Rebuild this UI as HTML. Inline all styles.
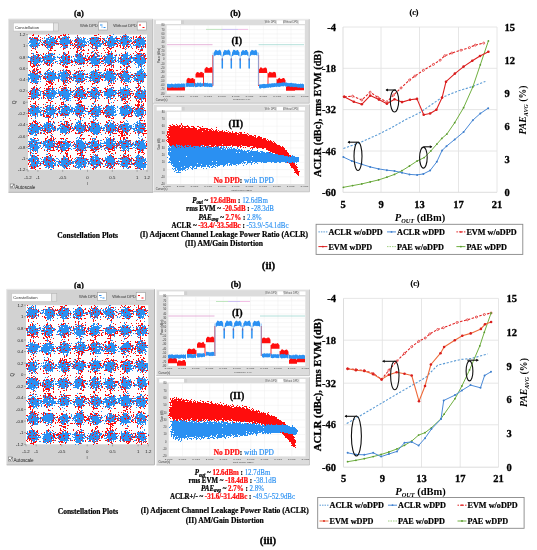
<!DOCTYPE html>
<html><head><meta charset="utf-8"><style>html,body{margin:0;padding:0;background:#fff;width:537px;height:550px;overflow:hidden}svg{display:block;filter:blur(0.3px)}</style></head>
<body><svg width="537" height="550" viewBox="0 0 537 550">
<rect width="537" height="550" fill="#fff"/>
<text x="79" y="16" font-size="8.5" text-anchor="middle" font-weight="bold" fill="#000" font-family="Liberation Serif"  stroke="#000" stroke-width="0.3">(a)</text>
<text x="235.5" y="16" font-size="8.5" text-anchor="middle" font-weight="bold" fill="#000" font-family="Liberation Serif"  stroke="#000" stroke-width="0.3">(b)</text>
<rect x="8.5" y="19" width="144.5" height="173.3" fill="#d2d2d2"/>
<path d="M8.5 192.3V19H153" stroke="#e6e6e6" stroke-width="1" fill="none"/>
<path d="M8.5 192.3H153V19" stroke="#b4b4b4" stroke-width="1" fill="none"/>
<rect x="13.4" y="23" width="40" height="8" fill="#fff" stroke="#c0c0c0" stroke-width="0.5"/>
<rect x="53.4" y="23" width="5" height="8" fill="#e4e4e4" stroke="#b0b0b0" stroke-width="0.5"/>
<text x="14.9" y="28.6" font-size="4.2" text-anchor="start" font-weight="normal" fill="#333" font-family="Liberation Sans" >Constellation</text>
<text x="80" y="27.4" font-size="4.1" text-anchor="start" font-weight="normal" fill="#333" font-family="Liberation Sans" >With DPD</text>
<rect x="98.4" y="22" width="9" height="8" fill="#fff" stroke="#999" stroke-width="0.6"/>
<path d="M100 25h2.5M103.5 27.5h2M101.5 27h1" stroke="#2a90f2" stroke-width="1.2"/>
<text x="113.2" y="27.4" font-size="4.1" text-anchor="start" font-weight="normal" fill="#333" font-family="Liberation Sans" >Without DPD</text>
<rect x="137.2" y="22" width="9.2" height="8" fill="#fff" stroke="#999" stroke-width="0.6"/>
<path d="M139 25h2M142.5 27.5h2" stroke="#ff0d0d" stroke-width="1.2"/>
<rect x="28" y="34.6" width="119" height="135.2" fill="#fff"/>
<text x="25.5" y="36.1" font-size="4.3" text-anchor="end" font-weight="normal" fill="#222" font-family="Liberation Sans" >1.2</text>
<path d="M26 34.6h2" stroke="#555" stroke-width="0.4"/>
<text x="25.5" y="47.4" font-size="4.3" text-anchor="end" font-weight="normal" fill="#222" font-family="Liberation Sans" >1</text>
<path d="M26 45.9h2" stroke="#555" stroke-width="0.4"/>
<text x="25.5" y="58.6" font-size="4.3" text-anchor="end" font-weight="normal" fill="#222" font-family="Liberation Sans" >0.8</text>
<path d="M26 57.1h2" stroke="#555" stroke-width="0.4"/>
<text x="25.5" y="69.9" font-size="4.3" text-anchor="end" font-weight="normal" fill="#222" font-family="Liberation Sans" >0.6</text>
<path d="M26 68.4h2" stroke="#555" stroke-width="0.4"/>
<text x="25.5" y="81.2" font-size="4.3" text-anchor="end" font-weight="normal" fill="#222" font-family="Liberation Sans" >0.4</text>
<path d="M26 79.7h2" stroke="#555" stroke-width="0.4"/>
<text x="25.5" y="92.4" font-size="4.3" text-anchor="end" font-weight="normal" fill="#222" font-family="Liberation Sans" >0.2</text>
<path d="M26 90.9h2" stroke="#555" stroke-width="0.4"/>
<text x="25.5" y="103.7" font-size="4.3" text-anchor="end" font-weight="normal" fill="#222" font-family="Liberation Sans" >0</text>
<path d="M26 102.2h2" stroke="#555" stroke-width="0.4"/>
<text x="25.5" y="115" font-size="4.3" text-anchor="end" font-weight="normal" fill="#222" font-family="Liberation Sans" >-0.2</text>
<path d="M26 113.5h2" stroke="#555" stroke-width="0.4"/>
<text x="25.5" y="126.2" font-size="4.3" text-anchor="end" font-weight="normal" fill="#222" font-family="Liberation Sans" >-0.4</text>
<path d="M26 124.7h2" stroke="#555" stroke-width="0.4"/>
<text x="25.5" y="137.5" font-size="4.3" text-anchor="end" font-weight="normal" fill="#222" font-family="Liberation Sans" >-0.6</text>
<path d="M26 136h2" stroke="#555" stroke-width="0.4"/>
<text x="25.5" y="148.8" font-size="4.3" text-anchor="end" font-weight="normal" fill="#222" font-family="Liberation Sans" >-0.8</text>
<path d="M26 147.3h2" stroke="#555" stroke-width="0.4"/>
<text x="25.5" y="160" font-size="4.3" text-anchor="end" font-weight="normal" fill="#222" font-family="Liberation Sans" >-1</text>
<path d="M26 158.5h2" stroke="#555" stroke-width="0.4"/>
<text x="25.5" y="171.3" font-size="4.3" text-anchor="end" font-weight="normal" fill="#222" font-family="Liberation Sans" >-1.2</text>
<path d="M26 169.8h2" stroke="#555" stroke-width="0.4"/>
<text x="28" y="178.8" font-size="4.3" text-anchor="middle" font-weight="normal" fill="#222" font-family="Liberation Sans" >-1.2</text>
<path d="M28 169.8v2" stroke="#555" stroke-width="0.4"/>
<text x="37.9" y="178.8" font-size="4.3" text-anchor="middle" font-weight="normal" fill="#222" font-family="Liberation Sans" >-1</text>
<path d="M37.9 169.8v2" stroke="#555" stroke-width="0.4"/>
<text x="62.7" y="178.8" font-size="4.3" text-anchor="middle" font-weight="normal" fill="#222" font-family="Liberation Sans" >-0.5</text>
<path d="M62.7 169.8v2" stroke="#555" stroke-width="0.4"/>
<text x="87.5" y="178.8" font-size="4.3" text-anchor="middle" font-weight="normal" fill="#222" font-family="Liberation Sans" >0</text>
<path d="M87.5 169.8v2" stroke="#555" stroke-width="0.4"/>
<text x="112.3" y="178.8" font-size="4.3" text-anchor="middle" font-weight="normal" fill="#222" font-family="Liberation Sans" >0.5</text>
<path d="M112.3 169.8v2" stroke="#555" stroke-width="0.4"/>
<text x="137.1" y="178.8" font-size="4.3" text-anchor="middle" font-weight="normal" fill="#222" font-family="Liberation Sans" >1</text>
<path d="M137.1 169.8v2" stroke="#555" stroke-width="0.4"/>
<text x="147" y="178.8" font-size="4.3" text-anchor="middle" font-weight="normal" fill="#222" font-family="Liberation Sans" >1.2</text>
<path d="M147 169.8v2" stroke="#555" stroke-width="0.4"/>
<text x="87.5" y="184.8" font-size="4.2" text-anchor="middle" font-weight="normal" fill="#333" font-family="Liberation Sans" >I</text>
<text x="0" y="0" font-size="4.5" text-anchor="middle" font-weight="normal" fill="#333" font-family="Liberation Sans" transform="translate(15.5 102.2) rotate(-90)">Q</text>
<rect x="10.2" y="184" width="4" height="4" fill="#fff" stroke="#666" stroke-width="0.5"/>
<path d="M10.8 186l1.2 1.5l2-3.5" stroke="#222" stroke-width="0.6" fill="none"/>
<text x="15.2" y="188.5" font-size="4.6" text-anchor="start" font-weight="normal" fill="#222" font-family="Liberation Sans" >Autoscale</text>
<defs><filter id="c1r" filterUnits="userSpaceOnUse" x="28" y="34.6" width="119" height="135.2" color-interpolation-filters="sRGB"><feGaussianBlur in="SourceAlpha" stdDeviation="2.6" result="b"/><feTurbulence type="fractalNoise" baseFrequency="0.6" numOctaves="1" seed="2" result="n"/><feColorMatrix in="n" type="matrix" values="0 0 0 0 0 0 0 0 0 0 0 0 0 0 0 1 0 0 0 0" result="na"/><feComposite in="b" in2="na" operator="arithmetic" k1="0" k2="0.4" k3="-1" k4="0.718" result="d"/><feComponentTransfer in="d" result="m"><feFuncA type="discrete" tableValues="0 1"/></feComponentTransfer><feGaussianBlur in="m" stdDeviation="0.35" result="m2"/><feFlood flood-color="#ff0d0d"/><feComposite in2="m2" operator="in"/></filter><filter id="c1h" filterUnits="userSpaceOnUse" x="28" y="34.6" width="119" height="135.2" color-interpolation-filters="sRGB"><feGaussianBlur in="SourceAlpha" stdDeviation="2.4" result="b"/><feTurbulence type="fractalNoise" baseFrequency="0.7" numOctaves="1" seed="3" result="n"/><feColorMatrix in="n" type="matrix" values="0 0 0 0 0 0 0 0 0 0 0 0 0 0 0 1 0 0 0 0" result="na"/><feComposite in="b" in2="na" operator="arithmetic" k1="0" k2="0.4" k3="-1" k4="0.65" result="d"/><feComponentTransfer in="d" result="m"><feFuncA type="discrete" tableValues="0 1"/></feComponentTransfer><feGaussianBlur in="m" stdDeviation="0.35" result="m2"/><feFlood flood-color="#2a90f2"/><feComposite in2="m2" operator="in"/></filter><filter id="c1b" filterUnits="userSpaceOnUse" x="28" y="34.6" width="119" height="135.2" color-interpolation-filters="sRGB"><feGaussianBlur in="SourceAlpha" stdDeviation="2" result="b"/><feTurbulence type="fractalNoise" baseFrequency="0.6" numOctaves="1" seed="4" result="n"/><feColorMatrix in="n" type="matrix" values="0 0 0 0 0 0 0 0 0 0 0 0 0 0 0 1 0 0 0 0" result="na"/><feComposite in="b" in2="na" operator="arithmetic" k1="0" k2="0.6" k3="-1" k4="0.6" result="d"/><feComponentTransfer in="d" result="m"><feFuncA type="discrete" tableValues="0 1"/></feComponentTransfer><feGaussianBlur in="m" stdDeviation="0.35" result="m2"/><feFlood flood-color="#2a90f2"/><feComposite in2="m2" operator="in"/></filter></defs>
<g filter="url(#c1r)"><ellipse cx="34" cy="162.9" rx="6.5" ry="7.5"/><ellipse cx="34.6" cy="145.5" rx="6.5" ry="7.5"/><ellipse cx="34.6" cy="127.9" rx="6.5" ry="7.5"/><ellipse cx="33.9" cy="110.4" rx="6.5" ry="7.5"/><ellipse cx="33.8" cy="93.1" rx="6.5" ry="7.5"/><ellipse cx="34.7" cy="75.6" rx="6.5" ry="7.5"/><ellipse cx="34.7" cy="60.3" rx="6.5" ry="7.5"/><ellipse cx="34.8" cy="42.1" rx="6.5" ry="7.5"/><ellipse cx="48.9" cy="161.7" rx="6.5" ry="7.5"/><ellipse cx="50.3" cy="144.5" rx="6.5" ry="7.5"/><ellipse cx="48.9" cy="127.7" rx="6.5" ry="7.5"/><ellipse cx="49.1" cy="111.2" rx="6.5" ry="7.5"/><ellipse cx="48.9" cy="93.2" rx="6.5" ry="7.5"/><ellipse cx="50.5" cy="77.4" rx="6.5" ry="7.5"/><ellipse cx="49" cy="59.7" rx="6.5" ry="7.5"/><ellipse cx="50.2" cy="42.9" rx="6.5" ry="7.5"/><ellipse cx="65.4" cy="162.4" rx="6.5" ry="7.5"/><ellipse cx="64" cy="145.7" rx="6.5" ry="7.5"/><ellipse cx="65.7" cy="127.8" rx="6.5" ry="7.5"/><ellipse cx="64.1" cy="110.1" rx="6.5" ry="7.5"/><ellipse cx="64" cy="92.7" rx="6.5" ry="7.5"/><ellipse cx="65.8" cy="76.6" rx="6.5" ry="7.5"/><ellipse cx="65.8" cy="59.2" rx="6.5" ry="7.5"/><ellipse cx="64.4" cy="41.3" rx="6.5" ry="7.5"/><ellipse cx="80.9" cy="161.5" rx="6.5" ry="7.5"/><ellipse cx="79.6" cy="145.8" rx="6.5" ry="7.5"/><ellipse cx="80.9" cy="128.5" rx="6.5" ry="7.5"/><ellipse cx="79.7" cy="110" rx="6.5" ry="7.5"/><ellipse cx="80.3" cy="94.1" rx="6.5" ry="7.5"/><ellipse cx="80" cy="77.3" rx="6.5" ry="7.5"/><ellipse cx="80.9" cy="59.5" rx="6.5" ry="7.5"/><ellipse cx="79" cy="43.2" rx="6.5" ry="7.5"/><ellipse cx="96" cy="162" rx="6.5" ry="7.5"/><ellipse cx="94.5" cy="145.5" rx="6.5" ry="7.5"/><ellipse cx="94.5" cy="128.3" rx="6.5" ry="7.5"/><ellipse cx="94.3" cy="111.3" rx="6.5" ry="7.5"/><ellipse cx="94.9" cy="93.5" rx="6.5" ry="7.5"/><ellipse cx="95.7" cy="76.5" rx="6.5" ry="7.5"/><ellipse cx="94.8" cy="59.2" rx="6.5" ry="7.5"/><ellipse cx="95.3" cy="42.5" rx="6.5" ry="7.5"/><ellipse cx="110.8" cy="162.2" rx="6.5" ry="7.5"/><ellipse cx="110.5" cy="145.2" rx="6.5" ry="7.5"/><ellipse cx="110.5" cy="128.5" rx="6.5" ry="7.5"/><ellipse cx="109.2" cy="111.6" rx="6.5" ry="7.5"/><ellipse cx="110.3" cy="93.2" rx="6.5" ry="7.5"/><ellipse cx="110.1" cy="75.7" rx="6.5" ry="7.5"/><ellipse cx="109.3" cy="59.8" rx="6.5" ry="7.5"/><ellipse cx="110.3" cy="43" rx="6.5" ry="7.5"/><ellipse cx="126" cy="161.2" rx="6.5" ry="7.5"/><ellipse cx="124.7" cy="144.2" rx="6.5" ry="7.5"/><ellipse cx="124.3" cy="128.8" rx="6.5" ry="7.5"/><ellipse cx="125.6" cy="111.2" rx="6.5" ry="7.5"/><ellipse cx="124.9" cy="94.6" rx="6.5" ry="7.5"/><ellipse cx="124.3" cy="76.3" rx="6.5" ry="7.5"/><ellipse cx="125.8" cy="60.3" rx="6.5" ry="7.5"/><ellipse cx="124.5" cy="41.9" rx="6.5" ry="7.5"/><ellipse cx="140.3" cy="162.2" rx="6.5" ry="7.5"/><ellipse cx="141.2" cy="145.6" rx="6.5" ry="7.5"/><ellipse cx="141.3" cy="128" rx="6.5" ry="7.5"/><ellipse cx="139.5" cy="110.3" rx="6.5" ry="7.5"/><ellipse cx="139.9" cy="94.4" rx="6.5" ry="7.5"/><ellipse cx="139.7" cy="77" rx="6.5" ry="7.5"/><ellipse cx="140.7" cy="58.4" rx="6.5" ry="7.5"/><ellipse cx="140.1" cy="42.5" rx="6.5" ry="7.5"/></g>
<g filter="url(#c1h)"><circle cx="34.7" cy="162.2" r="7.2"/><circle cx="34.7" cy="145" r="7.2"/><circle cx="34.7" cy="127.9" r="7.2"/><circle cx="34.7" cy="110.8" r="7.2"/><circle cx="34.7" cy="93.6" r="7.2"/><circle cx="34.7" cy="76.5" r="7.2"/><circle cx="34.7" cy="59.4" r="7.2"/><circle cx="34.7" cy="42.2" r="7.2"/><circle cx="49.8" cy="162.2" r="7.2"/><circle cx="49.8" cy="145" r="7.2"/><circle cx="49.8" cy="127.9" r="7.2"/><circle cx="49.8" cy="110.8" r="7.2"/><circle cx="49.8" cy="93.6" r="7.2"/><circle cx="49.8" cy="76.5" r="7.2"/><circle cx="49.8" cy="59.4" r="7.2"/><circle cx="49.8" cy="42.2" r="7.2"/><circle cx="64.9" cy="162.2" r="7.2"/><circle cx="64.9" cy="145" r="7.2"/><circle cx="64.9" cy="127.9" r="7.2"/><circle cx="64.9" cy="110.8" r="7.2"/><circle cx="64.9" cy="93.6" r="7.2"/><circle cx="64.9" cy="76.5" r="7.2"/><circle cx="64.9" cy="59.4" r="7.2"/><circle cx="64.9" cy="42.2" r="7.2"/><circle cx="80" cy="162.2" r="7.2"/><circle cx="80" cy="145" r="7.2"/><circle cx="80" cy="127.9" r="7.2"/><circle cx="80" cy="110.8" r="7.2"/><circle cx="80" cy="93.6" r="7.2"/><circle cx="80" cy="76.5" r="7.2"/><circle cx="80" cy="59.4" r="7.2"/><circle cx="80" cy="42.2" r="7.2"/><circle cx="95" cy="162.2" r="7.2"/><circle cx="95" cy="145" r="7.2"/><circle cx="95" cy="127.9" r="7.2"/><circle cx="95" cy="110.8" r="7.2"/><circle cx="95" cy="93.6" r="7.2"/><circle cx="95" cy="76.5" r="7.2"/><circle cx="95" cy="59.4" r="7.2"/><circle cx="95" cy="42.2" r="7.2"/><circle cx="110.1" cy="162.2" r="7.2"/><circle cx="110.1" cy="145" r="7.2"/><circle cx="110.1" cy="127.9" r="7.2"/><circle cx="110.1" cy="110.8" r="7.2"/><circle cx="110.1" cy="93.6" r="7.2"/><circle cx="110.1" cy="76.5" r="7.2"/><circle cx="110.1" cy="59.4" r="7.2"/><circle cx="110.1" cy="42.2" r="7.2"/><circle cx="125.2" cy="162.2" r="7.2"/><circle cx="125.2" cy="145" r="7.2"/><circle cx="125.2" cy="127.9" r="7.2"/><circle cx="125.2" cy="110.8" r="7.2"/><circle cx="125.2" cy="93.6" r="7.2"/><circle cx="125.2" cy="76.5" r="7.2"/><circle cx="125.2" cy="59.4" r="7.2"/><circle cx="125.2" cy="42.2" r="7.2"/><circle cx="140.3" cy="162.2" r="7.2"/><circle cx="140.3" cy="145" r="7.2"/><circle cx="140.3" cy="127.9" r="7.2"/><circle cx="140.3" cy="110.8" r="7.2"/><circle cx="140.3" cy="93.6" r="7.2"/><circle cx="140.3" cy="76.5" r="7.2"/><circle cx="140.3" cy="59.4" r="7.2"/><circle cx="140.3" cy="42.2" r="7.2"/></g>
<g filter="url(#c1b)"><circle cx="35.9" cy="160.9" r="4.6"/><circle cx="34.5" cy="163" r="5.3"/><circle cx="32.9" cy="159.7" r="5.4"/><circle cx="34.4" cy="163.6" r="3.6"/><circle cx="33.5" cy="147.3" r="5.5"/><circle cx="32.6" cy="142.5" r="4.7"/><circle cx="36.6" cy="144.4" r="4.1"/><circle cx="34.4" cy="142.6" r="4.1"/><circle cx="33.5" cy="126.5" r="4.1"/><circle cx="34.5" cy="126.8" r="3.6"/><circle cx="36.2" cy="128.2" r="4.9"/><circle cx="33.3" cy="130.4" r="5.4"/><circle cx="35.7" cy="111.9" r="5.6"/><circle cx="34.4" cy="112.5" r="5"/><circle cx="33.8" cy="111.2" r="5.5"/><circle cx="36.2" cy="110.8" r="4.8"/><circle cx="36" cy="93.2" r="4"/><circle cx="34.9" cy="94.7" r="5"/><circle cx="34.1" cy="93.3" r="4.7"/><circle cx="35.9" cy="93.7" r="4.4"/><circle cx="32.7" cy="77.6" r="5.7"/><circle cx="35.1" cy="76" r="4"/><circle cx="34.7" cy="79" r="5.2"/><circle cx="34.9" cy="78.4" r="4.1"/><circle cx="35" cy="59.2" r="4.2"/><circle cx="34.9" cy="61.8" r="3.6"/><circle cx="35.9" cy="61.1" r="5.5"/><circle cx="35.8" cy="61" r="4.7"/><circle cx="32.7" cy="44.1" r="4.8"/><circle cx="33.4" cy="42.2" r="4.6"/><circle cx="34.1" cy="41.4" r="4.7"/><circle cx="35.2" cy="42.8" r="4.6"/><circle cx="48.4" cy="162.6" r="5.4"/><circle cx="51.1" cy="163.7" r="5.3"/><circle cx="48.7" cy="164" r="5"/><circle cx="48" cy="159.7" r="3.6"/><circle cx="48.1" cy="145.7" r="4.3"/><circle cx="47.9" cy="143.2" r="4.7"/><circle cx="48.4" cy="143.8" r="5.1"/><circle cx="49.6" cy="144.1" r="4.6"/><circle cx="49.5" cy="126.3" r="3.8"/><circle cx="51.6" cy="127.9" r="4"/><circle cx="50.3" cy="129.5" r="3.6"/><circle cx="47.7" cy="126" r="5.1"/><circle cx="50.6" cy="111" r="4.1"/><circle cx="51.9" cy="112.3" r="4.7"/><circle cx="48.6" cy="111.5" r="4.4"/><circle cx="50.2" cy="109.8" r="4.9"/><circle cx="51.9" cy="95.6" r="4.2"/><circle cx="51.4" cy="92.7" r="5.6"/><circle cx="50.9" cy="93.2" r="4.1"/><circle cx="47.7" cy="95.6" r="3.7"/><circle cx="50.1" cy="74.8" r="5.4"/><circle cx="51.9" cy="77.6" r="4.7"/><circle cx="49.3" cy="75.7" r="4"/><circle cx="50.6" cy="76.2" r="4"/><circle cx="48.9" cy="59.4" r="4.3"/><circle cx="51.5" cy="61.5" r="3.6"/><circle cx="48.5" cy="58.5" r="5.7"/><circle cx="51.1" cy="58.5" r="4"/><circle cx="51.7" cy="41.4" r="5.5"/><circle cx="50.6" cy="42.1" r="5.7"/><circle cx="48.6" cy="43.4" r="3.8"/><circle cx="48.4" cy="44.3" r="4"/><circle cx="66.4" cy="161.5" r="4.3"/><circle cx="64" cy="164.1" r="4.9"/><circle cx="66.9" cy="164.2" r="3.9"/><circle cx="65.1" cy="160.1" r="3.7"/><circle cx="66.2" cy="146.7" r="4.3"/><circle cx="65.4" cy="146.5" r="4.4"/><circle cx="65.2" cy="143.6" r="3.8"/><circle cx="63.9" cy="147" r="4.8"/><circle cx="63.9" cy="129.4" r="5.3"/><circle cx="62.7" cy="128.8" r="3.8"/><circle cx="63.2" cy="129.9" r="3.7"/><circle cx="63.7" cy="130.4" r="4.5"/><circle cx="63.8" cy="112" r="3.8"/><circle cx="66.7" cy="110.1" r="5.6"/><circle cx="66.7" cy="109.7" r="4.1"/><circle cx="64.8" cy="108.7" r="5"/><circle cx="67" cy="92.6" r="4.9"/><circle cx="64.7" cy="92.7" r="3.7"/><circle cx="66.7" cy="96.1" r="5.6"/><circle cx="63.2" cy="92.2" r="4.9"/><circle cx="65.7" cy="77.4" r="4.1"/><circle cx="65.1" cy="75.5" r="4.1"/><circle cx="63" cy="75.4" r="5.7"/><circle cx="64.7" cy="77.3" r="5"/><circle cx="64" cy="58.5" r="4.3"/><circle cx="66.4" cy="61.4" r="4.2"/><circle cx="64.2" cy="59.6" r="4.8"/><circle cx="65.3" cy="58.1" r="3.6"/><circle cx="65.1" cy="40" r="3.8"/><circle cx="65.5" cy="41.1" r="5.3"/><circle cx="64.9" cy="44.1" r="3.9"/><circle cx="64.9" cy="43.7" r="3.8"/><circle cx="81.2" cy="164.7" r="5.3"/><circle cx="79.2" cy="160.2" r="4.7"/><circle cx="81.8" cy="161.1" r="5.5"/><circle cx="78.4" cy="164.3" r="3.7"/><circle cx="81.3" cy="147.1" r="5.4"/><circle cx="81" cy="146" r="4"/><circle cx="79.7" cy="143.2" r="5.1"/><circle cx="80.7" cy="143.7" r="3.7"/><circle cx="80.2" cy="128.1" r="5.4"/><circle cx="79.8" cy="127.3" r="4.3"/><circle cx="78.9" cy="125.4" r="5"/><circle cx="79.6" cy="128.3" r="3.7"/><circle cx="78.3" cy="109.5" r="5.3"/><circle cx="79.5" cy="110.2" r="4.9"/><circle cx="78.8" cy="108.2" r="4.7"/><circle cx="80" cy="111.5" r="4.5"/><circle cx="78.8" cy="93.6" r="4.6"/><circle cx="78.8" cy="93.2" r="4.8"/><circle cx="81.8" cy="95.8" r="4.2"/><circle cx="80.6" cy="91.3" r="3.8"/><circle cx="78.5" cy="77.9" r="5.5"/><circle cx="79.1" cy="77.5" r="5.4"/><circle cx="79.4" cy="77.6" r="5.1"/><circle cx="80.4" cy="78.4" r="5.5"/><circle cx="78.5" cy="58.1" r="4.1"/><circle cx="80.3" cy="60.7" r="3.7"/><circle cx="80.8" cy="60.5" r="4.3"/><circle cx="80" cy="57.6" r="5.1"/><circle cx="81.3" cy="42.9" r="4.2"/><circle cx="81.8" cy="44.6" r="3.9"/><circle cx="81.2" cy="44" r="5"/><circle cx="80.8" cy="41.9" r="5.5"/><circle cx="96.4" cy="161.8" r="3.9"/><circle cx="94.3" cy="160.3" r="5.5"/><circle cx="97.1" cy="160.2" r="4.9"/><circle cx="94.6" cy="160.2" r="4.2"/><circle cx="92.9" cy="143.4" r="4.5"/><circle cx="92.9" cy="145.7" r="4.9"/><circle cx="96.5" cy="143.5" r="4.2"/><circle cx="95.2" cy="143.8" r="4.8"/><circle cx="96.3" cy="129.5" r="5.6"/><circle cx="95.2" cy="127.8" r="5.4"/><circle cx="96.2" cy="128.3" r="4.4"/><circle cx="94.1" cy="125.9" r="5.3"/><circle cx="95.2" cy="113.2" r="5.2"/><circle cx="97.1" cy="108.9" r="4.7"/><circle cx="95.4" cy="109.8" r="4.7"/><circle cx="94.4" cy="110.9" r="3.6"/><circle cx="94.2" cy="93.1" r="5.2"/><circle cx="95.8" cy="93.6" r="5"/><circle cx="94.5" cy="92.1" r="3.6"/><circle cx="94.1" cy="94.1" r="5.5"/><circle cx="97.2" cy="76.3" r="5.4"/><circle cx="94.6" cy="77.8" r="5.7"/><circle cx="94.2" cy="74.8" r="4.9"/><circle cx="95.2" cy="75.8" r="3.6"/><circle cx="94.6" cy="61.3" r="4.8"/><circle cx="96.1" cy="61.5" r="5.2"/><circle cx="95" cy="60.7" r="4.9"/><circle cx="95.7" cy="60.1" r="4.5"/><circle cx="97" cy="43.7" r="5.4"/><circle cx="96.2" cy="43.8" r="4.9"/><circle cx="94.4" cy="41" r="5.1"/><circle cx="96.7" cy="42.4" r="3.9"/><circle cx="110" cy="159.8" r="4.7"/><circle cx="111.2" cy="161.8" r="4.3"/><circle cx="110.8" cy="159.7" r="4.7"/><circle cx="112.1" cy="163.2" r="4.4"/><circle cx="108.8" cy="143.5" r="5.5"/><circle cx="109.1" cy="142.8" r="5.3"/><circle cx="110.2" cy="144.3" r="4.7"/><circle cx="111.2" cy="143.3" r="5"/><circle cx="109.1" cy="128.5" r="4.1"/><circle cx="110.4" cy="126.2" r="5.3"/><circle cx="111.7" cy="127" r="4.1"/><circle cx="112.2" cy="129" r="5.4"/><circle cx="110.6" cy="109.8" r="4.5"/><circle cx="111.3" cy="112.2" r="4"/><circle cx="110.7" cy="109" r="5.6"/><circle cx="109.9" cy="112.9" r="5.1"/><circle cx="110.2" cy="91.8" r="3.9"/><circle cx="111.1" cy="92.9" r="5.2"/><circle cx="109" cy="94.8" r="5.1"/><circle cx="109.3" cy="91.6" r="4.4"/><circle cx="108.7" cy="74.2" r="4.9"/><circle cx="111.8" cy="75" r="3.7"/><circle cx="111" cy="78.1" r="5.6"/><circle cx="110.6" cy="75.7" r="5.4"/><circle cx="108.3" cy="58.9" r="4.6"/><circle cx="109.6" cy="57.7" r="4.1"/><circle cx="111.5" cy="59.2" r="4.8"/><circle cx="108.8" cy="60.5" r="4.3"/><circle cx="112.3" cy="39.8" r="5.3"/><circle cx="111.7" cy="41.3" r="4.4"/><circle cx="110.5" cy="44.4" r="4.4"/><circle cx="111.8" cy="43.5" r="3.9"/><circle cx="123.6" cy="163.1" r="3.7"/><circle cx="124.7" cy="160.3" r="4.6"/><circle cx="126.7" cy="164.3" r="3.7"/><circle cx="123.3" cy="164" r="3.7"/><circle cx="123.4" cy="142.6" r="4.9"/><circle cx="126.3" cy="146" r="5.4"/><circle cx="125.9" cy="144.4" r="4.9"/><circle cx="127.2" cy="145.7" r="4.1"/><circle cx="125.6" cy="127.1" r="4.9"/><circle cx="125.4" cy="128" r="3.7"/><circle cx="124.5" cy="127.4" r="4"/><circle cx="126.9" cy="127.5" r="5"/><circle cx="126.2" cy="112.1" r="4.1"/><circle cx="127.3" cy="108.9" r="5.5"/><circle cx="126.7" cy="112.6" r="3.7"/><circle cx="123.4" cy="112.4" r="4.6"/><circle cx="123.2" cy="93.8" r="4.5"/><circle cx="123.5" cy="93.1" r="5.1"/><circle cx="126.9" cy="91.2" r="4.7"/><circle cx="123.4" cy="95.2" r="3.8"/><circle cx="126.2" cy="75.5" r="3.9"/><circle cx="126.5" cy="78.1" r="5.4"/><circle cx="124.3" cy="76.1" r="4.1"/><circle cx="125.4" cy="75.6" r="4.3"/><circle cx="125.6" cy="57.3" r="5"/><circle cx="125" cy="61.9" r="5.1"/><circle cx="126.7" cy="60.4" r="4.7"/><circle cx="126.9" cy="61.1" r="4.2"/><circle cx="125.3" cy="40.1" r="4.3"/><circle cx="125.5" cy="39.8" r="5.3"/><circle cx="125.8" cy="41.2" r="4.2"/><circle cx="124.5" cy="41.3" r="5.2"/><circle cx="138.8" cy="164.3" r="4.3"/><circle cx="139.5" cy="160" r="5.7"/><circle cx="140.2" cy="164.3" r="5.5"/><circle cx="142.4" cy="163.8" r="5.5"/><circle cx="138.7" cy="145.1" r="4.8"/><circle cx="142.5" cy="146.5" r="5.1"/><circle cx="141.4" cy="144.3" r="5.6"/><circle cx="140.9" cy="144.5" r="4.6"/><circle cx="138.8" cy="126.1" r="5"/><circle cx="140.6" cy="130" r="4"/><circle cx="139.9" cy="129.1" r="3.7"/><circle cx="138.5" cy="128.1" r="4.2"/><circle cx="140.9" cy="110.9" r="3.8"/><circle cx="138.4" cy="112.6" r="5"/><circle cx="138.9" cy="112.6" r="3.6"/><circle cx="139.7" cy="112.6" r="5.1"/><circle cx="140.7" cy="95.5" r="5.5"/><circle cx="140" cy="94.6" r="4.7"/><circle cx="142.3" cy="95.2" r="5.1"/><circle cx="141.7" cy="96.2" r="4.1"/><circle cx="141.5" cy="76.6" r="4.6"/><circle cx="139.9" cy="78.5" r="5.3"/><circle cx="140.7" cy="74.1" r="5.4"/><circle cx="140.1" cy="74.9" r="4.2"/><circle cx="138.6" cy="58.4" r="5.5"/><circle cx="141.4" cy="61.8" r="4.7"/><circle cx="140.6" cy="59.7" r="4.7"/><circle cx="140.5" cy="61" r="5.6"/><circle cx="139.5" cy="41.2" r="4.7"/><circle cx="140.7" cy="42.5" r="5.7"/><circle cx="138.8" cy="42.9" r="5.7"/><circle cx="141.3" cy="42.5" r="4.4"/></g>
<defs><filter id="c1t" filterUnits="userSpaceOnUse" x="28" y="34.6" width="119" height="135.2" color-interpolation-filters="sRGB"><feGaussianBlur in="SourceAlpha" stdDeviation="2.6" result="b"/><feTurbulence type="fractalNoise" baseFrequency="0.6" numOctaves="1" seed="8" result="n"/><feColorMatrix in="n" type="matrix" values="0 0 0 0 0 0 0 0 0 0 0 0 0 0 0 1 0 0 0 0" result="na"/><feComposite in="b" in2="na" operator="arithmetic" k1="0" k2="0.4" k3="-1" k4="0.47" result="d"/><feComponentTransfer in="d" result="m"><feFuncA type="discrete" tableValues="0 1"/></feComponentTransfer><feGaussianBlur in="m" stdDeviation="0.35" result="m2"/><feFlood flood-color="#ff0d0d"/><feComposite in2="m2" operator="in"/></filter></defs>
<g filter="url(#c1t)"><ellipse cx="34" cy="162.9" rx="6.5" ry="7.5"/><ellipse cx="34.6" cy="145.5" rx="6.5" ry="7.5"/><ellipse cx="34.6" cy="127.9" rx="6.5" ry="7.5"/><ellipse cx="33.9" cy="110.4" rx="6.5" ry="7.5"/><ellipse cx="33.8" cy="93.1" rx="6.5" ry="7.5"/><ellipse cx="34.7" cy="75.6" rx="6.5" ry="7.5"/><ellipse cx="34.7" cy="60.3" rx="6.5" ry="7.5"/><ellipse cx="34.8" cy="42.1" rx="6.5" ry="7.5"/><ellipse cx="48.9" cy="161.7" rx="6.5" ry="7.5"/><ellipse cx="50.3" cy="144.5" rx="6.5" ry="7.5"/><ellipse cx="48.9" cy="127.7" rx="6.5" ry="7.5"/><ellipse cx="49.1" cy="111.2" rx="6.5" ry="7.5"/><ellipse cx="48.9" cy="93.2" rx="6.5" ry="7.5"/><ellipse cx="50.5" cy="77.4" rx="6.5" ry="7.5"/><ellipse cx="49" cy="59.7" rx="6.5" ry="7.5"/><ellipse cx="50.2" cy="42.9" rx="6.5" ry="7.5"/><ellipse cx="65.4" cy="162.4" rx="6.5" ry="7.5"/><ellipse cx="64" cy="145.7" rx="6.5" ry="7.5"/><ellipse cx="65.7" cy="127.8" rx="6.5" ry="7.5"/><ellipse cx="64.1" cy="110.1" rx="6.5" ry="7.5"/><ellipse cx="64" cy="92.7" rx="6.5" ry="7.5"/><ellipse cx="65.8" cy="76.6" rx="6.5" ry="7.5"/><ellipse cx="65.8" cy="59.2" rx="6.5" ry="7.5"/><ellipse cx="64.4" cy="41.3" rx="6.5" ry="7.5"/><ellipse cx="80.9" cy="161.5" rx="6.5" ry="7.5"/><ellipse cx="79.6" cy="145.8" rx="6.5" ry="7.5"/><ellipse cx="80.9" cy="128.5" rx="6.5" ry="7.5"/><ellipse cx="79.7" cy="110" rx="6.5" ry="7.5"/><ellipse cx="80.3" cy="94.1" rx="6.5" ry="7.5"/><ellipse cx="80" cy="77.3" rx="6.5" ry="7.5"/><ellipse cx="80.9" cy="59.5" rx="6.5" ry="7.5"/><ellipse cx="79" cy="43.2" rx="6.5" ry="7.5"/><ellipse cx="96" cy="162" rx="6.5" ry="7.5"/><ellipse cx="94.5" cy="145.5" rx="6.5" ry="7.5"/><ellipse cx="94.5" cy="128.3" rx="6.5" ry="7.5"/><ellipse cx="94.3" cy="111.3" rx="6.5" ry="7.5"/><ellipse cx="94.9" cy="93.5" rx="6.5" ry="7.5"/><ellipse cx="95.7" cy="76.5" rx="6.5" ry="7.5"/><ellipse cx="94.8" cy="59.2" rx="6.5" ry="7.5"/><ellipse cx="95.3" cy="42.5" rx="6.5" ry="7.5"/><ellipse cx="110.8" cy="162.2" rx="6.5" ry="7.5"/><ellipse cx="110.5" cy="145.2" rx="6.5" ry="7.5"/><ellipse cx="110.5" cy="128.5" rx="6.5" ry="7.5"/><ellipse cx="109.2" cy="111.6" rx="6.5" ry="7.5"/><ellipse cx="110.3" cy="93.2" rx="6.5" ry="7.5"/><ellipse cx="110.1" cy="75.7" rx="6.5" ry="7.5"/><ellipse cx="109.3" cy="59.8" rx="6.5" ry="7.5"/><ellipse cx="110.3" cy="43" rx="6.5" ry="7.5"/><ellipse cx="126" cy="161.2" rx="6.5" ry="7.5"/><ellipse cx="124.7" cy="144.2" rx="6.5" ry="7.5"/><ellipse cx="124.3" cy="128.8" rx="6.5" ry="7.5"/><ellipse cx="125.6" cy="111.2" rx="6.5" ry="7.5"/><ellipse cx="124.9" cy="94.6" rx="6.5" ry="7.5"/><ellipse cx="124.3" cy="76.3" rx="6.5" ry="7.5"/><ellipse cx="125.8" cy="60.3" rx="6.5" ry="7.5"/><ellipse cx="124.5" cy="41.9" rx="6.5" ry="7.5"/><ellipse cx="140.3" cy="162.2" rx="6.5" ry="7.5"/><ellipse cx="141.2" cy="145.6" rx="6.5" ry="7.5"/><ellipse cx="141.3" cy="128" rx="6.5" ry="7.5"/><ellipse cx="139.5" cy="110.3" rx="6.5" ry="7.5"/><ellipse cx="139.9" cy="94.4" rx="6.5" ry="7.5"/><ellipse cx="139.7" cy="77" rx="6.5" ry="7.5"/><ellipse cx="140.7" cy="58.4" rx="6.5" ry="7.5"/><ellipse cx="140.1" cy="42.5" rx="6.5" ry="7.5"/></g>
<rect x="153.5" y="19.2" width="155.8" height="84" fill="#dcdcdc"/>
<path d="M153.5 103.2V19.2H309.3" stroke="#f0f0f0" stroke-width="0.8" fill="none"/>
<path d="M153.5 103.2H309.3V19.2" stroke="#bdbdbd" stroke-width="0.8" fill="none"/>
<rect x="156" y="20.4" width="25" height="3.6" fill="#fff"/>
<rect x="181" y="20.4" width="3" height="3.6" fill="#d0d0d0"/>
<rect x="266" y="20.4" width="9" height="3.6" fill="#eee"/>
<rect x="277" y="20.4" width="6" height="3.6" fill="#fff"/>
<rect x="284" y="20.4" width="13" height="3.6" fill="#eee"/>
<rect x="299" y="20.4" width="6" height="3.6" fill="#fff"/>
<text x="270.5" y="23.2" font-size="2.6" text-anchor="middle" font-weight="normal" fill="#555" font-family="Liberation Sans" >With DPD</text>
<text x="290.5" y="23.2" font-size="2.6" text-anchor="middle" font-weight="normal" fill="#555" font-family="Liberation Sans" >Without DPD</text>
<rect x="166.6" y="25.3" width="138.2" height="68.5" fill="#fff"/>
<path d="M180.4 25.3V93.8M194.2 25.3V93.8M208.1 25.3V93.8M221.9 25.3V93.8M235.7 25.3V93.8M249.5 25.3V93.8M263.3 25.3V93.8M277.2 25.3V93.8M291 25.3V93.8M166.6 29.6H304.8M166.6 33.9H304.8M166.6 38.1H304.8M166.6 42.4H304.8M166.6 46.7H304.8M166.6 51H304.8M166.6 55.3H304.8M166.6 59.5H304.8M166.6 63.8H304.8M166.6 68.1H304.8M166.6 72.4H304.8M166.6 76.7H304.8M166.6 81H304.8M166.6 85.2H304.8M166.6 89.5H304.8" stroke="#efefef" stroke-width="0.5"/>
<text x="164.4" y="26.2" font-size="2.6" text-anchor="end" font-weight="normal" fill="#333" font-family="Liberation Sans" >80</text>
<text x="164.4" y="30.5" font-size="2.6" text-anchor="end" font-weight="normal" fill="#333" font-family="Liberation Sans" >70</text>
<text x="164.4" y="34.8" font-size="2.6" text-anchor="end" font-weight="normal" fill="#333" font-family="Liberation Sans" >60</text>
<text x="164.4" y="39" font-size="2.6" text-anchor="end" font-weight="normal" fill="#333" font-family="Liberation Sans" >50</text>
<text x="164.4" y="43.3" font-size="2.6" text-anchor="end" font-weight="normal" fill="#333" font-family="Liberation Sans" >40</text>
<text x="164.4" y="47.6" font-size="2.6" text-anchor="end" font-weight="normal" fill="#333" font-family="Liberation Sans" >30</text>
<text x="164.4" y="51.9" font-size="2.6" text-anchor="end" font-weight="normal" fill="#333" font-family="Liberation Sans" >20</text>
<text x="164.4" y="56.2" font-size="2.6" text-anchor="end" font-weight="normal" fill="#333" font-family="Liberation Sans" >10</text>
<text x="164.4" y="60.4" font-size="2.6" text-anchor="end" font-weight="normal" fill="#333" font-family="Liberation Sans" >0</text>
<text x="164.4" y="64.7" font-size="2.6" text-anchor="end" font-weight="normal" fill="#333" font-family="Liberation Sans" >-10</text>
<text x="164.4" y="69" font-size="2.6" text-anchor="end" font-weight="normal" fill="#333" font-family="Liberation Sans" >-20</text>
<text x="164.4" y="73.3" font-size="2.6" text-anchor="end" font-weight="normal" fill="#333" font-family="Liberation Sans" >-30</text>
<text x="164.4" y="77.6" font-size="2.6" text-anchor="end" font-weight="normal" fill="#333" font-family="Liberation Sans" >-40</text>
<text x="164.4" y="81.9" font-size="2.6" text-anchor="end" font-weight="normal" fill="#333" font-family="Liberation Sans" >-50</text>
<text x="164.4" y="86.1" font-size="2.6" text-anchor="end" font-weight="normal" fill="#333" font-family="Liberation Sans" >-60</text>
<text x="164.4" y="90.4" font-size="2.6" text-anchor="end" font-weight="normal" fill="#333" font-family="Liberation Sans" >-70</text>
<text x="164.4" y="94.7" font-size="2.6" text-anchor="end" font-weight="normal" fill="#333" font-family="Liberation Sans" >-80</text>
<text x="166.6" y="97.2" font-size="2.4" text-anchor="middle" font-weight="normal" fill="#444" font-family="Liberation Sans" >2.495G</text>
<text x="180.4" y="97.2" font-size="2.4" text-anchor="middle" font-weight="normal" fill="#444" font-family="Liberation Sans" >2.495G</text>
<text x="194.2" y="97.2" font-size="2.4" text-anchor="middle" font-weight="normal" fill="#444" font-family="Liberation Sans" >2.495G</text>
<text x="208.1" y="97.2" font-size="2.4" text-anchor="middle" font-weight="normal" fill="#444" font-family="Liberation Sans" >2.495G</text>
<text x="221.9" y="97.2" font-size="2.4" text-anchor="middle" font-weight="normal" fill="#444" font-family="Liberation Sans" >2.495G</text>
<text x="235.7" y="97.2" font-size="2.4" text-anchor="middle" font-weight="normal" fill="#444" font-family="Liberation Sans" >2.495G</text>
<text x="249.5" y="97.2" font-size="2.4" text-anchor="middle" font-weight="normal" fill="#444" font-family="Liberation Sans" >2.495G</text>
<text x="263.3" y="97.2" font-size="2.4" text-anchor="middle" font-weight="normal" fill="#444" font-family="Liberation Sans" >2.495G</text>
<text x="277.2" y="97.2" font-size="2.4" text-anchor="middle" font-weight="normal" fill="#444" font-family="Liberation Sans" >2.495G</text>
<text x="291" y="97.2" font-size="2.4" text-anchor="middle" font-weight="normal" fill="#444" font-family="Liberation Sans" >2.495G</text>
<text x="304.8" y="97.2" font-size="2.4" text-anchor="middle" font-weight="normal" fill="#444" font-family="Liberation Sans" >2.495G</text>
<text x="0" y="0" font-size="2.6" text-anchor="middle" font-weight="normal" fill="#333" font-family="Liberation Sans" transform="translate(159.7 55.5) rotate(-90)">Power (dBm)</text>
<text x="161.5" y="101.4" font-size="2.8" text-anchor="middle" font-weight="normal" fill="#333" font-family="Liberation Sans" >Cursor(s)</text>
<text x="241.7" y="100.4" font-size="2.5" text-anchor="middle" font-weight="normal" fill="#444" font-family="Liberation Sans" >Frequency (Hz)</text>
<path d="M167 86.6L167.5 86.8L168 86.6L168.5 85.6L169 85.5L169.5 84.9L170 84.7L170.5 85.2L171 84.7L171.5 84.7L172 85.2L172.5 84.9L173 85.3L173.5 85.2L174 85.5L174.5 85.3L175 85.7L175.5 86L176 85.8L176.5 85.9L177 85.8L177.5 85.2L178 85.6L178.5 85.3L179 84.9L179.5 84.6L180 85.1L180.5 84.8L181 85L181.5 85.2L182 85.2L182.5 85.5L183 85.3L183.5 85.7L184 86.6L184.5 87L185 87L185 90.5L167 90.5ZM186.5 79.5L187 79.4L187.5 78.1L188 78.3L188.5 77.8L189 78.1L189.5 78.2L190 78.6L190.5 78.7L191 78.5L191.5 78.4L192 78L192.5 78.1L193 78.1L193.5 78.6L194 79.9L194.5 80.1L194.5 83.5L186.5 83.5ZM195.5 73.9L196 73.4L196.5 72.6L197 72.3L197.5 72.1L198 72L198.5 72.4L199 72.4L199.5 73L200 72.7L200.5 72.1L201 71.7L201.5 72.1L202 72.3L202.5 72L203 73.8L203.5 73.7L203.5 77.5L195.5 77.5ZM204.5 68.8L205 68.8L205.5 67.8L206 67.6L206.5 66.8L207 67.3L207.5 67.2L208 68L208.5 67.9L209 68.3L209.5 68.1L210 67.4L210.5 67.5L211 67.1L211.5 67.1L212 67.8L212.5 68.7L212.8 72.8L204.5 72.8ZM259 69.1L259.5 69.2L260 68L260.5 67.4L261 67.1L261.5 67.8L262 67.7L262.5 68.5L263 68.6L263.5 68.2L264 68L264.5 67.7L265 67.6L265.5 67.6L266 67.8L266.5 68.1L267 69.6L267.3 73.1L259 73.1ZM268 73.8L268.5 73.6L269 72.5L269.5 71.8L270 71.7L270.5 72.3L271 72.2L271.5 72.6L272 72.4L272.5 72.6L273 72.5L273.5 71.8L274 72L274.5 72L275 71.8L275.5 72.5L276 73.7L276.3 77.5L268 77.5ZM277 80.1L277.5 79.7L278 78.7L278.5 78.4L279 77.7L279.5 77.8L280 78.5L280.5 79L281 78.7L281.5 78.9L282 78.8L282.5 78.3L283 78L283.5 77.9L284 78.1L284.5 78.6L285 79.7L285.5 79.9L285.5 83.7L277 83.7ZM286 87.1L286.5 86.5L287 85.6L287.5 85.4L288 84.9L288.5 84.9L289 85.5L289.5 85.4L290 85.6L290.5 85.9L291 86L291.5 85.3L292 85.2L292.5 85L293 85.3L293.5 85.2L294 85.8L294.5 86.6L295 86.8L295 90.7L286 90.7ZM295 86.6L295.5 86.6L296 85L296.5 84.6L297 84.3L297.5 84.6L298 84.6L298.5 85.3L299 85.6L299.5 85.2L300 85.2L300.5 85.3L301 84.9L301.5 84.8L302 84.5L302.5 84.5L303 84.9L303.5 86.6L304 86.3L304 90.2L295 90.2Z" fill="#ff0d0d"/>
<path d="M194.6 79V86" stroke="#ff0d0d" stroke-width="0.9"/>
<path d="M203.5 73V86" stroke="#ff0d0d" stroke-width="0.9"/>
<path d="M212.8 55V86" stroke="#ff0d0d" stroke-width="0.9"/>
<path d="M258.6 55V86" stroke="#ff0d0d" stroke-width="0.9"/>
<path d="M268 73V86" stroke="#ff0d0d" stroke-width="0.9"/>
<path d="M277 79V86" stroke="#ff0d0d" stroke-width="0.9"/>
<path d="M167 83.7L167.5 83.8L168 84.3L168.5 83.4L169 84.2L169.5 83.8L170 84.3L170.5 84.1L171 84L171.5 83.6L172 83.5L172.5 83.9L173 84.1L173.5 84.2L174 84.2L174.5 84.2L175 83.3L175.5 83.4L176 83.9L176.5 83.7L177 83.9L177.5 83.5L178 83.7L178.5 83.6L179 83.7L179.5 83.4L180 84.1L180.5 84L181 83.8L181.5 83.2L182 83.4L182.5 83.6L183 83.9L183.5 83.2L184 83.2L184.5 84.1L185 83.2L185.5 83.4L185.5 87.2L185 87.4L184.5 87.8L184 87L183.5 87.1L183 86.9L182.5 87.4L182 87.5L181.5 87.2L181 87.8L180.5 87L180 87.8L179.5 87.8L179 87.8L178.5 87.2L178 87.8L177.5 87.9L177 87.4L176.5 88L176 87.6L175.5 87.4L175 87.8L174.5 87.7L174 88L173.5 87.8L173 87.1L172.5 87.4L172 87.2L171.5 87.5L171 87.7L170.5 88L170 87.4L169.5 88.1L169 88.2L168.5 88.1L168 87.3L167.5 87.6L167 87.6ZM186 83L186.5 83.2L187 82.8L187.5 82.7L188 83.3L188.5 82.7L189 83L189.5 83.4L190 83.4L190.5 83L191 83.1L191.5 83L192 83.1L192.5 83.1L193 82.7L193.5 83L194 83.5L194.5 83.5L194.5 87.2L194 86.8L193.5 87.3L193 86.8L192.5 87.1L192 86.6L191.5 87.1L191 87.1L190.5 86.8L190 87L189.5 86.8L189 87L188.5 86.6L188 86.8L187.5 87L187 86.7L186.5 86.8L186 87ZM195 82.9L195.5 82.7L196 83.2L196.5 83.4L197 83.3L197.5 82.6L198 82.5L198.5 83.3L199 82.6L199.5 83.4L200 82.5L200.5 82.6L201 83.1L201.5 83.4L202 83.2L202.5 83.2L203 83.1L203.5 83.1L203.5 87.1L203 86.3L202.5 86.7L202 86.3L201.5 86.8L201 87.1L200.5 87.1L200 87.1L199.5 86.5L199 86.4L198.5 86.4L198 86.5L197.5 86.9L197 86.9L196.5 87L196 87.3L195.5 87.2L195 86.9ZM204 82.5L204.5 83L205 82.7L205.5 82.7L206 83.2L206.5 82.9L207 82.9L207.5 82.6L208 83.6L208.5 83.4L209 83.3L209.5 83.3L210 83.2L210.5 83.6L211 82.8L211.5 83.7L212 83.2L212.5 83L212.5 86.9L212 87.3L211.5 87.1L211 87.3L210.5 86.7L210 87.1L209.5 87L209 87.2L208.5 86.6L208 86.8L207.5 86.9L207 86.8L206.5 86.7L206 86.7L205.5 86.9L205 86.4L204.5 87.1L204 86.5ZM259 84.3L259.5 84.4L260 84.7L260.5 84.3L261 84.3L261.5 84.5L262 84.1L262.5 84.3L263 83.9L263.5 84L264 83.8L264.5 84.1L265 84L265.5 84.3L266 84L266.5 84.3L267 84.1L267.5 83.8L268 83.5L268.5 83.9L269 84.1L269.5 83.4L270 83.3L270.5 83.9L271 83.3L271.5 83.3L272 83.7L272.5 83L273 83.2L273.5 83.4L274 82.8L274.5 83.2L275 82.9L275.5 83.6L276 83.1L276.5 82.8L277 82.6L277.5 83.4L278 83.4L278.5 83.1L279 82.6L279.5 82.9L280 82.5L280.5 83.2L281 82.7L281.5 82.6L282 82.8L282.5 82.6L283 82.6L283.5 82.1L284 82.5L284.5 82.8L285 82.1L285 86.3L284.5 85.8L284 85.8L283.5 86.6L283 86.4L282.5 86L282 86.5L281.5 86.3L281 86.1L280.5 86.7L280 86.8L279.5 86.9L279 86.8L278.5 86.9L278 86.6L277.5 86.4L277 87.2L276.5 87L276 86.5L275.5 86.8L275 87.1L274.5 87L274 86.9L273.5 87.3L273 87L272.5 87.5L272 86.8L271.5 87.2L271 87.7L270.5 87.8L270 87.6L269.5 87.2L269 87.3L268.5 88L268 87.8L267.5 87.4L267 88.2L266.5 87.6L266 88L265.5 87.9L265 88.2L264.5 88L264 88.4L263.5 88.3L263 87.9L262.5 88L262 87.7L261.5 87.9L261 88.6L260.5 88.5L260 88.8L259.5 88.1L259 88.5ZM285 82.7L285.5 82.8L286 82.5L286.5 82.3L287 83L287.5 83L288 82.6L288.5 83.2L289 82.9L289.5 83.2L290 82.8L290.5 83.1L291 82.9L291.5 82.7L292 82.8L292.5 83.5L293 82.9L293.5 83.2L294 83.6L294.5 83.4L295 83.3L295.5 83.5L296 83.2L296.5 83.8L297 83.9L297.5 84L298 83.7L298.5 83.8L299 83.9L299.5 84.1L300 83.9L300.5 83.3L301 84L301.5 83.9L302 83.6L302.5 83.5L303 84.2L303.5 84.1L304 84.5L304 87.5L303.5 88.3L303 87.8L302.5 87.8L302 87.8L301.5 87.7L301 87.7L300.5 87.9L300 87.8L299.5 87.5L299 87.3L298.5 87.9L298 87.5L297.5 87.3L297 87.7L296.5 86.8L296 87L295.5 87.3L295 86.9L294.5 86.8L294 87.4L293.5 87.3L293 86.7L292.5 87.2L292 86.6L291.5 86.7L291 87.2L290.5 87.1L290 86.7L289.5 86.6L289 86.5L288.5 86.2L288 86.5L287.5 86.5L287 86.6L286.5 86.7L286 86.2L285.5 86.4L285 86.5Z" fill="#2a90f2"/>
<path d="M213.9 52.7L214.4 51.5L214.9 50.7L215.4 50L215.9 49.7L216.4 50.1L216.9 50.5L217.4 50.8L217.9 50.8L218.4 50.6L218.9 50.3L219.4 50L219.9 49.6L220.4 50.2L220.9 51.2L221.4 52.4L221.4 56.4L220.9 55.9L220.4 55.2L219.9 54.7L219.4 55L218.9 55L218.4 55.3L217.9 54.9L217.4 55.1L216.9 55.1L216.4 54.8L215.9 55.2L215.4 55.4L214.9 55.3L214.4 56L213.9 56.6ZM223 52.5L223.5 51.7L224 51.1L224.5 49.8L225 50L225.5 49.9L226 50.4L226.5 50.2L227 50.8L227.5 50.3L228 49.8L228.5 49.8L229 49.5L229.5 50.5L230 51.3L230.5 52.4L230.5 56.4L230 55.7L229.5 55.5L229 54.8L228.5 54.8L228 54.8L227.5 54.8L227 54.8L226.5 54.8L226 54.8L225.5 55L225 54.9L224.5 55.3L224 55.5L223.5 56L223 56.6ZM232 52.7L232.5 51.7L233 50.5L233.5 49.8L234 49.8L234.5 50.1L235 50.1L235.5 50.7L236 50.8L236.5 50.6L237 49.8L237.5 50L238 49.9L238.5 51L239 51.9L239.5 52.2L239.5 56.3L239 55.8L238.5 55.9L238 54.9L237.5 55.1L237 54.9L236.5 54.9L236 55L235.5 54.9L235 54.7L234.5 54.9L234 54.8L233.5 54.9L233 55.9L232.5 56L232 56.3ZM240.9 52.3L241.4 51.5L241.9 51.2L242.4 50.3L242.9 50L243.4 50.3L243.9 50.2L244.4 50.9L244.9 50.4L245.4 50.1L245.9 49.9L246.4 50.1L246.9 50L247.4 50.9L247.9 51.9L248.4 52.3L248.4 56.3L247.9 55.9L247.4 55.5L246.9 55.1L246.4 54.8L245.9 55.1L245.4 54.9L244.9 55.2L244.4 54.8L243.9 55.1L243.4 54.7L242.9 55.3L242.4 55.1L241.9 55.4L241.4 56.1L240.9 56.3ZM249.9 52.7L250.4 51.6L250.9 51.1L251.4 50.2L251.9 49.8L252.4 50.1L252.9 50.2L253.4 50.6L253.9 50.4L254.4 50.5L254.9 50.4L255.4 50.1L255.9 49.7L256.4 50.1L256.9 51.6L257.4 52.2L257.4 56L256.9 55.5L256.4 55.2L255.9 54.9L255.4 55.1L254.9 55L254.4 55.2L253.9 55.2L253.4 54.8L252.9 55.2L252.4 54.7L251.9 54.8L251.4 55L250.9 55.6L250.4 55.9L249.9 56.5Z" fill="#2a90f2"/>
<path d="M213.2 52.6V85M258.4 52.6V85M222.3 54.6V60M231.3 54.6V60M240.2 54.6V60M249.2 54.6V60" stroke="#7fb8f0" stroke-width="0.9" fill="none"/>
<path d="M222.3 59V68M231.3 59V68M240.2 59V68M249.2 59V68" stroke="#2a90f2" stroke-width="1.5" fill="none" stroke-linecap="round"/>
<path d="M222.3 58.5v2" stroke="#ff0d0d" stroke-width="0.6" stroke-opacity="0.7"/>
<path d="M231.3 58.5v2" stroke="#ff0d0d" stroke-width="0.6" stroke-opacity="0.7"/>
<path d="M240.2 58.5v2" stroke="#ff0d0d" stroke-width="0.6" stroke-opacity="0.7"/>
<path d="M249.2 58.5v2" stroke="#ff0d0d" stroke-width="0.6" stroke-opacity="0.7"/>
<path d="M167 44.7H212.5" stroke="#e0a0d0" stroke-width="0.8"/>
<path d="M258.6 44.7H304" stroke="#a0d8d0" stroke-width="0.8"/>
<path d="M206 29.4H222" stroke="#b0e0b0" stroke-width="0.8"/>
<path d="M222 29.4H238" stroke="#c0b0f0" stroke-width="0.8"/>
<path d="M238 29.4H248" stroke="#f0b0e0" stroke-width="0.8"/>
<text x="236.7" y="44.2" font-size="10" text-anchor="middle" font-weight="bold" fill="#000" font-family="Liberation Serif"  stroke="#000" stroke-width="0.3">(I)</text>
<rect x="153.5" y="104.5" width="156" height="87.3" fill="#dcdcdc"/>
<path d="M153.5 191.8V104.5H309.5" stroke="#f0f0f0" stroke-width="0.8" fill="none"/>
<path d="M153.5 191.8H309.5V104.5" stroke="#bdbdbd" stroke-width="0.8" fill="none"/>
<rect x="156.7" y="106.9" width="25" height="3.6" fill="#fff"/>
<rect x="181.7" y="106.9" width="3" height="3.6" fill="#d0d0d0"/>
<rect x="266" y="106.9" width="9" height="3.6" fill="#eee"/>
<rect x="277" y="106.9" width="6" height="3.6" fill="#fff"/>
<rect x="284" y="106.9" width="13" height="3.6" fill="#eee"/>
<rect x="299" y="106.9" width="6" height="3.6" fill="#fff"/>
<text x="270.5" y="109.7" font-size="2.6" text-anchor="middle" font-weight="normal" fill="#555" font-family="Liberation Sans" >With DPD</text>
<text x="290.5" y="109.7" font-size="2.6" text-anchor="middle" font-weight="normal" fill="#555" font-family="Liberation Sans" >Without DPD</text>
<rect x="166.9" y="111.8" width="137.6" height="72.2" fill="#fff"/>
<path d="M180.7 111.8V184M194.4 111.8V184M208.2 111.8V184M221.9 111.8V184M235.7 111.8V184M249.5 111.8V184M263.2 111.8V184M277 111.8V184M290.7 111.8V184M166.9 119H304.5M166.9 126.2H304.5M166.9 133.5H304.5M166.9 140.7H304.5M166.9 147.9H304.5M166.9 155.1H304.5M166.9 162.3H304.5M166.9 169.6H304.5M166.9 176.8H304.5" stroke="#efefef" stroke-width="0.5"/>
<text x="164.7" y="112.7" font-size="2.6" text-anchor="end" font-weight="normal" fill="#333" font-family="Liberation Sans" >80</text>
<text x="164.7" y="119.9" font-size="2.6" text-anchor="end" font-weight="normal" fill="#333" font-family="Liberation Sans" >70</text>
<text x="164.7" y="127.1" font-size="2.6" text-anchor="end" font-weight="normal" fill="#333" font-family="Liberation Sans" >60</text>
<text x="164.7" y="134.4" font-size="2.6" text-anchor="end" font-weight="normal" fill="#333" font-family="Liberation Sans" >50</text>
<text x="164.7" y="141.6" font-size="2.6" text-anchor="end" font-weight="normal" fill="#333" font-family="Liberation Sans" >40</text>
<text x="164.7" y="148.8" font-size="2.6" text-anchor="end" font-weight="normal" fill="#333" font-family="Liberation Sans" >30</text>
<text x="164.7" y="156" font-size="2.6" text-anchor="end" font-weight="normal" fill="#333" font-family="Liberation Sans" >20</text>
<text x="164.7" y="163.2" font-size="2.6" text-anchor="end" font-weight="normal" fill="#333" font-family="Liberation Sans" >10</text>
<text x="164.7" y="170.5" font-size="2.6" text-anchor="end" font-weight="normal" fill="#333" font-family="Liberation Sans" >0</text>
<text x="164.7" y="177.7" font-size="2.6" text-anchor="end" font-weight="normal" fill="#333" font-family="Liberation Sans" >-10</text>
<text x="164.7" y="184.9" font-size="2.6" text-anchor="end" font-weight="normal" fill="#333" font-family="Liberation Sans" >-20</text>
<text x="166.9" y="187.4" font-size="2.4" text-anchor="middle" font-weight="normal" fill="#444" font-family="Liberation Sans" >2.495G</text>
<text x="180.7" y="187.4" font-size="2.4" text-anchor="middle" font-weight="normal" fill="#444" font-family="Liberation Sans" >2.495G</text>
<text x="194.4" y="187.4" font-size="2.4" text-anchor="middle" font-weight="normal" fill="#444" font-family="Liberation Sans" >2.495G</text>
<text x="208.2" y="187.4" font-size="2.4" text-anchor="middle" font-weight="normal" fill="#444" font-family="Liberation Sans" >2.495G</text>
<text x="221.9" y="187.4" font-size="2.4" text-anchor="middle" font-weight="normal" fill="#444" font-family="Liberation Sans" >2.495G</text>
<text x="235.7" y="187.4" font-size="2.4" text-anchor="middle" font-weight="normal" fill="#444" font-family="Liberation Sans" >2.495G</text>
<text x="249.5" y="187.4" font-size="2.4" text-anchor="middle" font-weight="normal" fill="#444" font-family="Liberation Sans" >2.495G</text>
<text x="263.2" y="187.4" font-size="2.4" text-anchor="middle" font-weight="normal" fill="#444" font-family="Liberation Sans" >2.495G</text>
<text x="277" y="187.4" font-size="2.4" text-anchor="middle" font-weight="normal" fill="#444" font-family="Liberation Sans" >2.495G</text>
<text x="290.7" y="187.4" font-size="2.4" text-anchor="middle" font-weight="normal" fill="#444" font-family="Liberation Sans" >2.495G</text>
<text x="304.5" y="187.4" font-size="2.4" text-anchor="middle" font-weight="normal" fill="#444" font-family="Liberation Sans" >2.495G</text>
<text x="0" y="0" font-size="2.6" text-anchor="middle" font-weight="normal" fill="#333" font-family="Liberation Sans" transform="translate(159.7 143.9) rotate(-90)">Gain (dB)</text>
<text x="161.5" y="190" font-size="2.8" text-anchor="middle" font-weight="normal" fill="#333" font-family="Liberation Sans" >Cursor(s)</text>
<text x="241.7" y="190.6" font-size="2.5" text-anchor="middle" font-weight="normal" fill="#444" font-family="Liberation Sans" >Input Power (dBm)</text>
<defs><filter id="sp1" filterUnits="userSpaceOnUse" x="166.9" y="111.8" width="137.6" height="72.2" color-interpolation-filters="sRGB"><feGaussianBlur in="SourceAlpha" stdDeviation="3.2" result="b"/><feTurbulence type="fractalNoise" baseFrequency="0.8" numOctaves="1" seed="5" result="n"/><feColorMatrix in="n" type="matrix" values="0 0 0 0 0 0 0 0 0 0 0 0 0 0 0 1 0 0 0 0" result="na"/><feComposite in="b" in2="na" operator="arithmetic" k1="0" k2="1" k3="-1" k4="0.52" result="d"/><feComponentTransfer in="d" result="m"><feFuncA type="discrete" tableValues="0 1"/></feComponentTransfer><feGaussianBlur in="m" stdDeviation="0.3" result="m2"/><feFlood flood-color="#ff0d0d"/><feComposite in2="m2" operator="in"/></filter></defs>
<defs><filter id="sp2" filterUnits="userSpaceOnUse" x="166.9" y="111.8" width="137.6" height="72.2" color-interpolation-filters="sRGB"><feGaussianBlur in="SourceAlpha" stdDeviation="3.2" result="b"/><feTurbulence type="fractalNoise" baseFrequency="0.8" numOctaves="1" seed="6" result="n"/><feColorMatrix in="n" type="matrix" values="0 0 0 0 0 0 0 0 0 0 0 0 0 0 0 1 0 0 0 0" result="na"/><feComposite in="b" in2="na" operator="arithmetic" k1="0" k2="1.0" k3="-1" k4="0.3" result="d"/><feComponentTransfer in="d" result="m"><feFuncA type="discrete" tableValues="0 1"/></feComponentTransfer><feGaussianBlur in="m" stdDeviation="0.3" result="m2"/><feFlood flood-color="#2a90f2"/><feComposite in2="m2" operator="in"/></filter></defs>
<defs><filter id="sp3" filterUnits="userSpaceOnUse" x="166.9" y="111.8" width="137.6" height="72.2" color-interpolation-filters="sRGB"><feGaussianBlur in="SourceAlpha" stdDeviation="1.0" result="b"/><feTurbulence type="fractalNoise" baseFrequency="0.8" numOctaves="1" seed="7" result="n"/><feColorMatrix in="n" type="matrix" values="0 0 0 0 0 0 0 0 0 0 0 0 0 0 0 1 0 0 0 0" result="na"/><feComposite in="b" in2="na" operator="arithmetic" k1="0" k2="1" k3="-1" k4="0.62" result="d"/><feComponentTransfer in="d" result="m"><feFuncA type="discrete" tableValues="0 1"/></feComponentTransfer><feGaussianBlur in="m" stdDeviation="0.3" result="m2"/><feFlood flood-color="#ff0d0d"/><feComposite in2="m2" operator="in"/></filter></defs>
<defs><filter id="sp4" filterUnits="userSpaceOnUse" x="166.9" y="111.8" width="137.6" height="72.2" color-interpolation-filters="sRGB"><feGaussianBlur in="SourceAlpha" stdDeviation="1.0" result="b"/><feTurbulence type="fractalNoise" baseFrequency="0.8" numOctaves="1" seed="8" result="n"/><feColorMatrix in="n" type="matrix" values="0 0 0 0 0 0 0 0 0 0 0 0 0 0 0 1 0 0 0 0" result="na"/><feComposite in="b" in2="na" operator="arithmetic" k1="0" k2="1" k3="-1" k4="0.62" result="d"/><feComponentTransfer in="d" result="m"><feFuncA type="discrete" tableValues="0 1"/></feComponentTransfer><feGaussianBlur in="m" stdDeviation="0.3" result="m2"/><feFlood flood-color="#2a90f2"/><feComposite in2="m2" operator="in"/></filter></defs>
<defs><linearGradient id="g5b" x1="0" y1="0" x2="0" y2="1"><stop offset="0" stop-color="#000" stop-opacity="1"/><stop offset="0.35" stop-color="#000" stop-opacity="1"/><stop offset="1" stop-color="#000" stop-opacity="0.8"/></linearGradient><linearGradient id="g5r" x1="0" y1="0" x2="0" y2="1"><stop offset="0" stop-color="#000" stop-opacity="0.7"/><stop offset="0.4" stop-color="#000" stop-opacity="1"/><stop offset="1" stop-color="#000" stop-opacity="1"/></linearGradient></defs>
<g filter="url(#sp2)"><path d="M167 139.8L190 141.8L213 144.8L245 148.3L265 150.3L283 153.8L299 156.3L299 163.7L283 163.2L265 163.7L245 166.2L213 168.7L190 171.2L175 176.7L167 161.2Z" fill="url(#g5b)"/></g>
<g filter="url(#sp1)"><path d="M167 123L190 125.5L213 129L245 133.5L265 138L283 147.5L291 157L299 171L299 178L291 165L283 157L265 148.5L245 146.5L213 146L190 146L167 146Z" fill="url(#g5r)"/></g>
<g filter="url(#sp3)"><path d="M268 140L283 148L291 157L299 171L299 178L291 165L283 157L268 150Z" fill="#ff0d0d"/></g>
<g filter="url(#sp4)"><path d="M262 152L283 155.5L299 158L299 162.5L283 162L262 162Z" fill="#2a90f2"/></g>
<text x="235.8" y="127" font-size="10" text-anchor="middle" font-weight="bold" fill="#000" font-family="Liberation Serif"  stroke="#000" stroke-width="0.3">(II)</text>
<text x="213.7" y="183.2" font-size="7.4" font-weight="bold" font-family="Liberation Serif" stroke-width="0.2"><tspan fill="#ff0d0d" stroke="#ff0d0d">No DPD</tspan><tspan fill="#000" stroke="#000">: </tspan><tspan fill="#2a90f2" stroke="#2a90f2" font-weight="normal">with DPD</tspan></text>
<text transform="translate(230 202.9) scale(1 1.1)" font-size="6.95" font-weight="bold" text-anchor="middle" font-family="Liberation Serif" stroke="#000" stroke-width="0.22"><tspan font-style="italic">P</tspan><tspan font-style="italic" font-size="4.8" dy="1">out</tspan><tspan dy="-1"> </tspan><tspan>~ </tspan><tspan fill="#ff0d0d" stroke="#ff0d0d">12.6dBm</tspan><tspan> : </tspan><tspan fill="#2a90f2" stroke="#2a90f2" stroke-width="0.12" font-weight="normal">12.6dBm</tspan></text>
<text transform="translate(230 211.3) scale(1 1.1)" font-size="6.95" font-weight="bold" text-anchor="middle" font-family="Liberation Serif" stroke="#000" stroke-width="0.22"><tspan>rms EVM ~ </tspan><tspan fill="#ff0d0d" stroke="#ff0d0d">-20.5dB</tspan><tspan> : </tspan><tspan fill="#2a90f2" stroke="#2a90f2" stroke-width="0.12" font-weight="normal">-28.3dB</tspan></text>
<text transform="translate(230 219.7) scale(1 1.1)" font-size="6.95" font-weight="bold" text-anchor="middle" font-family="Liberation Serif" stroke="#000" stroke-width="0.22"><tspan font-style="italic">PAE</tspan><tspan font-style="italic" font-size="4.8" dy="1">avg</tspan><tspan dy="-1"> </tspan><tspan>~ </tspan><tspan fill="#ff0d0d" stroke="#ff0d0d">2.7%</tspan><tspan> : </tspan><tspan fill="#2a90f2" stroke="#2a90f2" stroke-width="0.12" font-weight="normal">2.8%</tspan></text>
<text transform="translate(230 228.1) scale(1 1.1)" font-size="6.95" font-weight="bold" text-anchor="middle" font-family="Liberation Serif" stroke="#000" stroke-width="0.22"><tspan>ACLR ~ </tspan><tspan fill="#ff0d0d" stroke="#ff0d0d">-33.4/-33.5dBc</tspan><tspan> : </tspan><tspan fill="#2a90f2" stroke="#2a90f2" stroke-width="0.12" font-weight="normal">-53.9/-54.1dBc</tspan></text>
<text x="224" y="236.7" font-size="7.6" text-anchor="middle" font-weight="bold" fill="#000" font-family="Liberation Serif" stroke="#000" stroke-width="0.2">(I) Adjacent Channel Leakage Power Ratio (ACLR)</text>
<text x="224" y="245.7" font-size="7.6" text-anchor="middle" font-weight="bold" fill="#000" font-family="Liberation Serif" stroke="#000" stroke-width="0.2">(II) AM/Gain Distortion</text>
<text x="87.6" y="238.4" font-size="7.55" text-anchor="middle" font-weight="bold" fill="#000" font-family="Liberation Serif" stroke="#000" stroke-width="0.2">Constellation Plots</text>
<text x="268.5" y="268.6" font-size="11" text-anchor="middle" font-weight="bold" fill="#000" font-family="Liberation Serif"  stroke="#000" stroke-width="0.3">(ii)</text>
<path d="M381 27V192.3M419.5 27V192.3M458.5 27V192.3M343 27H497M343 68.3H497M343 109.6H497M343 151H497M497 27V192.3" stroke="#e3e3e3" stroke-width="0.9" fill="none"/>
<path d="M343 27V192.3H497" stroke="#d9d9d9" stroke-width="0.9" fill="none"/>
<text x="336" y="30.6" font-size="10.5" text-anchor="end" font-weight="bold" fill="#000" font-family="Liberation Serif"  stroke="#000" stroke-width="0.3">-4</text>
<text x="336" y="71.9" font-size="10.5" text-anchor="end" font-weight="bold" fill="#000" font-family="Liberation Serif"  stroke="#000" stroke-width="0.3">-18</text>
<text x="336" y="113.2" font-size="10.5" text-anchor="end" font-weight="bold" fill="#000" font-family="Liberation Serif"  stroke="#000" stroke-width="0.3">-32</text>
<text x="336" y="154.6" font-size="10.5" text-anchor="end" font-weight="bold" fill="#000" font-family="Liberation Serif"  stroke="#000" stroke-width="0.3">-46</text>
<text x="336" y="195.9" font-size="10.5" text-anchor="end" font-weight="bold" fill="#000" font-family="Liberation Serif"  stroke="#000" stroke-width="0.3">-60</text>
<text x="504.5" y="30.6" font-size="10.5" text-anchor="start" font-weight="bold" fill="#000" font-family="Liberation Serif"  stroke="#000" stroke-width="0.3">15</text>
<text x="504.5" y="63.7" font-size="10.5" text-anchor="start" font-weight="bold" fill="#000" font-family="Liberation Serif"  stroke="#000" stroke-width="0.3">12</text>
<text x="504.5" y="96.7" font-size="10.5" text-anchor="start" font-weight="bold" fill="#000" font-family="Liberation Serif"  stroke="#000" stroke-width="0.3">9</text>
<text x="504.5" y="129.8" font-size="10.5" text-anchor="start" font-weight="bold" fill="#000" font-family="Liberation Serif"  stroke="#000" stroke-width="0.3">6</text>
<text x="504.5" y="162.8" font-size="10.5" text-anchor="start" font-weight="bold" fill="#000" font-family="Liberation Serif"  stroke="#000" stroke-width="0.3">3</text>
<text x="504.5" y="195.9" font-size="10.5" text-anchor="start" font-weight="bold" fill="#000" font-family="Liberation Serif"  stroke="#000" stroke-width="0.3">0</text>
<text x="343" y="207.6" font-size="10.5" text-anchor="middle" font-weight="bold" fill="#000" font-family="Liberation Serif"  stroke="#000" stroke-width="0.3">5</text>
<text x="381" y="207.6" font-size="10.5" text-anchor="middle" font-weight="bold" fill="#000" font-family="Liberation Serif"  stroke="#000" stroke-width="0.3">9</text>
<text x="419.5" y="207.6" font-size="10.5" text-anchor="middle" font-weight="bold" fill="#000" font-family="Liberation Serif"  stroke="#000" stroke-width="0.3">13</text>
<text x="458.5" y="207.6" font-size="10.5" text-anchor="middle" font-weight="bold" fill="#000" font-family="Liberation Serif"  stroke="#000" stroke-width="0.3">17</text>
<text x="497" y="207.6" font-size="10.5" text-anchor="middle" font-weight="bold" fill="#000" font-family="Liberation Serif"  stroke="#000" stroke-width="0.3">21</text>
<text x="420" y="220.6" font-size="10.5" font-weight="bold" text-anchor="middle" font-family="Liberation Serif"><tspan font-style="italic">P</tspan><tspan font-size="6.3" dy="2" font-style="italic">OUT</tspan><tspan dy="-2"> (dBm)</tspan></text>
<text x="0" y="0" font-size="10.3" text-anchor="middle" font-weight="bold" fill="#000" font-family="Liberation Serif" transform="translate(320.9 113.7) rotate(-90)" stroke="#000" stroke-width="0.3">ACLR (dBc), rms EVM (dB)</text>
<text transform="translate(526.4 110) rotate(-90)" font-size="9.8" font-weight="bold" text-anchor="middle" font-family="Liberation Serif"><tspan font-style="italic">PAE</tspan><tspan font-size="6" dy="2" font-style="italic">AVG</tspan><tspan dy="-2"> (%)</tspan></text>
<text x="414" y="15.3" font-size="8" text-anchor="middle" font-weight="bold" fill="#000" font-family="Liberation Serif"  stroke="#000" stroke-width="0.2">(c)</text>
<path d="M343.4 148.4L360 142.6L377 135L390 128.5L405 120L420 112.5L441.8 97.5L458 91L472 86.7L485.4 81.4" stroke="#5b9bd5" stroke-width="1.1" fill="none" stroke-dasharray="2.2 1.6" stroke-linejoin="round"/>
<path d="M344.2 96.8L352.6 96.2L361.8 100L370.2 92.2L377.7 97.3L386.9 101.8L393.6 95L401 88L409.5 80L415 76L423.4 70.3L433.4 64.4L440.1 60.2L444.8 55.7L451.9 53L461 50.2L469.4 47.6L475.3 45.1L483.7 43.1" stroke="#e02020" stroke-width="1.1" fill="none" stroke-dasharray="2.5 1.5" stroke-linejoin="round"/>
<circle cx="344.2" cy="96.8" r="1.0" fill="#fff" stroke="#e02020" stroke-width="0.7"/>
<circle cx="352.6" cy="96.2" r="1.0" fill="#fff" stroke="#e02020" stroke-width="0.7"/>
<circle cx="361.8" cy="100" r="1.0" fill="#fff" stroke="#e02020" stroke-width="0.7"/>
<circle cx="370.2" cy="92.2" r="1.0" fill="#fff" stroke="#e02020" stroke-width="0.7"/>
<circle cx="377.7" cy="97.3" r="1.0" fill="#fff" stroke="#e02020" stroke-width="0.7"/>
<circle cx="386.9" cy="101.8" r="1.0" fill="#fff" stroke="#e02020" stroke-width="0.7"/>
<circle cx="393.6" cy="95" r="1.0" fill="#fff" stroke="#e02020" stroke-width="0.7"/>
<circle cx="401" cy="88" r="1.0" fill="#fff" stroke="#e02020" stroke-width="0.7"/>
<circle cx="409.5" cy="80" r="1.0" fill="#fff" stroke="#e02020" stroke-width="0.7"/>
<circle cx="415" cy="76" r="1.0" fill="#fff" stroke="#e02020" stroke-width="0.7"/>
<circle cx="423.4" cy="70.3" r="1.0" fill="#fff" stroke="#e02020" stroke-width="0.7"/>
<circle cx="433.4" cy="64.4" r="1.0" fill="#fff" stroke="#e02020" stroke-width="0.7"/>
<circle cx="440.1" cy="60.2" r="1.0" fill="#fff" stroke="#e02020" stroke-width="0.7"/>
<circle cx="444.8" cy="55.7" r="1.0" fill="#fff" stroke="#e02020" stroke-width="0.7"/>
<circle cx="451.9" cy="53" r="1.0" fill="#fff" stroke="#e02020" stroke-width="0.7"/>
<circle cx="461" cy="50.2" r="1.0" fill="#fff" stroke="#e02020" stroke-width="0.7"/>
<circle cx="469.4" cy="47.6" r="1.0" fill="#fff" stroke="#e02020" stroke-width="0.7"/>
<circle cx="475.3" cy="45.1" r="1.0" fill="#fff" stroke="#e02020" stroke-width="0.7"/>
<circle cx="483.7" cy="43.1" r="1.0" fill="#fff" stroke="#e02020" stroke-width="0.7"/>
<path d="M343.4 187.3L352.6 185.6L361.8 183.9L370.2 181.9L378.6 179.9L386.9 177.2L394.5 174.4L402 170.7L409.5 166L417.1 161L424.2 157.6L430.9 150.9L436.8 144.2L441.8 138.4L446.8 134.2L454.7 122.7L463.6 107.7L472.8 87L480.3 64.8L488.4 40.9" stroke="#70b040" stroke-width="1.0" fill="none" stroke-linejoin="round"/>
<circle cx="343.4" cy="187.3" r="0.9" fill="#5a9a30"/>
<circle cx="352.6" cy="185.6" r="0.9" fill="#5a9a30"/>
<circle cx="361.8" cy="183.9" r="0.9" fill="#5a9a30"/>
<circle cx="370.2" cy="181.9" r="0.9" fill="#5a9a30"/>
<circle cx="378.6" cy="179.9" r="0.9" fill="#5a9a30"/>
<circle cx="386.9" cy="177.2" r="0.9" fill="#5a9a30"/>
<circle cx="394.5" cy="174.4" r="0.9" fill="#5a9a30"/>
<circle cx="402" cy="170.7" r="0.9" fill="#5a9a30"/>
<circle cx="409.5" cy="166" r="0.9" fill="#5a9a30"/>
<circle cx="417.1" cy="161" r="0.9" fill="#5a9a30"/>
<circle cx="424.2" cy="157.6" r="0.9" fill="#5a9a30"/>
<circle cx="430.9" cy="150.9" r="0.9" fill="#5a9a30"/>
<circle cx="436.8" cy="144.2" r="0.9" fill="#5a9a30"/>
<circle cx="441.8" cy="138.4" r="0.9" fill="#5a9a30"/>
<circle cx="446.8" cy="134.2" r="0.9" fill="#5a9a30"/>
<circle cx="454.7" cy="122.7" r="0.9" fill="#5a9a30"/>
<circle cx="463.6" cy="107.7" r="0.9" fill="#5a9a30"/>
<circle cx="472.8" cy="87" r="0.9" fill="#5a9a30"/>
<circle cx="480.3" cy="64.8" r="0.9" fill="#5a9a30"/>
<circle cx="488.4" cy="40.9" r="0.9" fill="#5a9a30"/>
<path d="M343.4 157.1L351.8 161L361.8 164.3L370.2 166.9L378.6 168.9L386.9 170.2L394.5 171L402 172.7L409.5 174.4L417.1 174.9L423.4 173.9L430.1 170.5L436.8 161.8L442.1 150.4L446.5 146.2L454.7 139.5L463.6 132L472.8 120.2L480.3 113.5L488.2 108.2" stroke="#4a8ad8" stroke-width="1.0" fill="none" stroke-linejoin="round"/>
<circle cx="343.4" cy="157.1" r="1.0" fill="#3f7fcc"/>
<circle cx="351.8" cy="161" r="1.0" fill="#3f7fcc"/>
<circle cx="361.8" cy="164.3" r="1.0" fill="#3f7fcc"/>
<circle cx="370.2" cy="166.9" r="1.0" fill="#3f7fcc"/>
<circle cx="378.6" cy="168.9" r="1.0" fill="#3f7fcc"/>
<circle cx="386.9" cy="170.2" r="1.0" fill="#3f7fcc"/>
<circle cx="394.5" cy="171" r="1.0" fill="#3f7fcc"/>
<circle cx="402" cy="172.7" r="1.0" fill="#3f7fcc"/>
<circle cx="409.5" cy="174.4" r="1.0" fill="#3f7fcc"/>
<circle cx="417.1" cy="174.9" r="1.0" fill="#3f7fcc"/>
<circle cx="423.4" cy="173.9" r="1.0" fill="#3f7fcc"/>
<circle cx="430.1" cy="170.5" r="1.0" fill="#3f7fcc"/>
<circle cx="436.8" cy="161.8" r="1.0" fill="#3f7fcc"/>
<circle cx="442.1" cy="150.4" r="1.0" fill="#3f7fcc"/>
<circle cx="446.5" cy="146.2" r="1.0" fill="#3f7fcc"/>
<circle cx="454.7" cy="139.5" r="1.0" fill="#3f7fcc"/>
<circle cx="463.6" cy="132" r="1.0" fill="#3f7fcc"/>
<circle cx="472.8" cy="120.2" r="1.0" fill="#3f7fcc"/>
<circle cx="480.3" cy="113.5" r="1.0" fill="#3f7fcc"/>
<circle cx="488.2" cy="108.2" r="1.0" fill="#3f7fcc"/>
<path d="M344.2 96.8L353.8 101.8L361.8 104.3L370.2 95.6L378.9 99.6L386.9 103.8L394.5 99.3L402 102.1L410 99.8L417 98.9L423.7 114.7L430.1 113.5L436.4 109.8L442.1 97.6L446 81.7L454.9 73.6L463.6 66.6L472.3 60.7L480 56L488.4 51.8" stroke="#dd2020" stroke-width="1.1" fill="none" stroke-linejoin="round"/>
<circle cx="344.2" cy="96.8" r="1.3" fill="#d81e1e"/>
<circle cx="353.8" cy="101.8" r="1.3" fill="#d81e1e"/>
<circle cx="361.8" cy="104.3" r="1.3" fill="#d81e1e"/>
<circle cx="370.2" cy="95.6" r="1.3" fill="#d81e1e"/>
<circle cx="378.9" cy="99.6" r="1.3" fill="#d81e1e"/>
<circle cx="386.9" cy="103.8" r="1.3" fill="#d81e1e"/>
<circle cx="394.5" cy="99.3" r="1.3" fill="#d81e1e"/>
<circle cx="402" cy="102.1" r="1.3" fill="#d81e1e"/>
<circle cx="410" cy="99.8" r="1.3" fill="#d81e1e"/>
<circle cx="417" cy="98.9" r="1.3" fill="#d81e1e"/>
<circle cx="423.7" cy="114.7" r="1.3" fill="#d81e1e"/>
<circle cx="430.1" cy="113.5" r="1.3" fill="#d81e1e"/>
<circle cx="436.4" cy="109.8" r="1.3" fill="#d81e1e"/>
<circle cx="442.1" cy="97.6" r="1.3" fill="#d81e1e"/>
<circle cx="446" cy="81.7" r="1.3" fill="#d81e1e"/>
<circle cx="454.9" cy="73.6" r="1.3" fill="#d81e1e"/>
<circle cx="463.6" cy="66.6" r="1.3" fill="#d81e1e"/>
<circle cx="472.3" cy="60.7" r="1.3" fill="#d81e1e"/>
<circle cx="480" cy="56" r="1.3" fill="#d81e1e"/>
<circle cx="488.4" cy="51.8" r="1.3" fill="#d81e1e"/>
<ellipse cx="358" cy="156.3" rx="4" ry="14.2" fill="none" stroke="#111" stroke-width="1.1"/>
<path d="M348 142.2H357" stroke="#111" stroke-width="1.1"/>
<path d="M347.5 142.2l2.5 -1.5v3z" fill="#111"/>
<ellipse cx="423.4" cy="157.6" rx="3.8" ry="10.5" fill="none" stroke="#111" stroke-width="1.1"/>
<path d="M423.4 146.8H431.8" stroke="#111" stroke-width="1.1"/>
<path d="M432.3 146.8l-2.5 -1.5v3z" fill="#111"/>
<ellipse cx="394.5" cy="101" rx="4.2" ry="11" fill="none" stroke="#111" stroke-width="1.1"/>
<path d="M386 90H396" stroke="#111" stroke-width="1.1"/>
<path d="M385.5 90l2.5 -1.5v3z" fill="#111"/>
<rect x="316.1" y="224.3" width="206.7" height="30.1" fill="#fff" stroke="#888" stroke-width="0.9"/>
<path d="M318.4 231.9h9" stroke="#5b9bd5" stroke-width="1" stroke-dasharray="1.5 1"/>
<text x="328.4" y="234.8" font-size="8.2" text-anchor="start" font-weight="bold" fill="#000" font-family="Liberation Serif"  stroke="#000" stroke-width="0.2">ACLR w/oDPD</text>
<path d="M387 231.9h9" stroke="#4a8ad8" stroke-width="1"/>
<circle cx="391.5" cy="231.9" r="0.9" fill="#3f7fcc"/>
<text x="397" y="234.8" font-size="8.2" text-anchor="start" font-weight="bold" fill="#000" font-family="Liberation Serif"  stroke="#000" stroke-width="0.2">ACLR wDPD</text>
<path d="M456.4 231.9h9" stroke="#e02020" stroke-width="1" stroke-dasharray="1.5 1"/>
<circle cx="460.9" cy="231.9" r="0.9" fill="#e02020"/>
<text x="466.4" y="234.8" font-size="8.2" text-anchor="start" font-weight="bold" fill="#000" font-family="Liberation Serif"  stroke="#000" stroke-width="0.2">EVM w/oDPD</text>
<path d="M318.4 246.6h9" stroke="#dd2020" stroke-width="1"/>
<circle cx="322.9" cy="246.6" r="0.9" fill="#d81e1e"/>
<text x="328.4" y="249.5" font-size="8.2" text-anchor="start" font-weight="bold" fill="#000" font-family="Liberation Serif"  stroke="#000" stroke-width="0.2">EVM wDPD</text>
<path d="M387 246.6h9" stroke="#a0d080" stroke-width="1" stroke-dasharray="1.5 1"/>
<text x="397" y="249.5" font-size="8.2" text-anchor="start" font-weight="bold" fill="#000" font-family="Liberation Serif"  stroke="#000" stroke-width="0.2">PAE w/oDPD</text>
<path d="M456.4 246.6h9" stroke="#70b040" stroke-width="1"/>
<circle cx="460.9" cy="246.6" r="0.9" fill="#5a9a30"/>
<text x="466.4" y="249.5" font-size="8.2" text-anchor="start" font-weight="bold" fill="#000" font-family="Liberation Serif"  stroke="#000" stroke-width="0.2">PAE wDPD</text>
<text x="79" y="287.5" font-size="8.5" text-anchor="middle" font-weight="bold" fill="#000" font-family="Liberation Serif"  stroke="#000" stroke-width="0.3">(a)</text>
<text x="236" y="287" font-size="8.5" text-anchor="middle" font-weight="bold" fill="#000" font-family="Liberation Serif"  stroke="#000" stroke-width="0.3">(b)</text>
<rect x="6.7" y="289.3" width="147.8" height="175.6" fill="#d2d2d2"/>
<path d="M6.7 464.9V289.3H154.5" stroke="#e6e6e6" stroke-width="1" fill="none"/>
<path d="M6.7 464.9H154.5V289.3" stroke="#b4b4b4" stroke-width="1" fill="none"/>
<rect x="11.8" y="293.5" width="40" height="8" fill="#fff" stroke="#c0c0c0" stroke-width="0.5"/>
<rect x="51.8" y="293.5" width="5" height="8" fill="#e4e4e4" stroke="#b0b0b0" stroke-width="0.5"/>
<text x="13.3" y="299.1" font-size="4.2" text-anchor="start" font-weight="normal" fill="#333" font-family="Liberation Sans" >Constellation</text>
<text x="79" y="297.9" font-size="4.1" text-anchor="start" font-weight="normal" fill="#333" font-family="Liberation Sans" >With DPD</text>
<rect x="97.4" y="292.5" width="9" height="8" fill="#fff" stroke="#999" stroke-width="0.6"/>
<path d="M99 295.5h2.5M102.5 298h2M100.5 297.5h1" stroke="#2a90f2" stroke-width="1.2"/>
<text x="112.2" y="297.9" font-size="4.1" text-anchor="start" font-weight="normal" fill="#333" font-family="Liberation Sans" >Without DPD</text>
<rect x="136.2" y="292.5" width="9.2" height="8" fill="#fff" stroke="#999" stroke-width="0.6"/>
<path d="M138 295.5h2M141.5 298h2" stroke="#ff0d0d" stroke-width="1.2"/>
<rect x="26" y="305.2" width="122.3" height="139.1" fill="#fff"/>
<text x="23.5" y="306.7" font-size="4.3" text-anchor="end" font-weight="normal" fill="#222" font-family="Liberation Sans" >1.2</text>
<path d="M24 305.2h2" stroke="#555" stroke-width="0.4"/>
<text x="23.5" y="318.3" font-size="4.3" text-anchor="end" font-weight="normal" fill="#222" font-family="Liberation Sans" >1</text>
<path d="M24 316.8h2" stroke="#555" stroke-width="0.4"/>
<text x="23.5" y="329.9" font-size="4.3" text-anchor="end" font-weight="normal" fill="#222" font-family="Liberation Sans" >0.8</text>
<path d="M24 328.4h2" stroke="#555" stroke-width="0.4"/>
<text x="23.5" y="341.5" font-size="4.3" text-anchor="end" font-weight="normal" fill="#222" font-family="Liberation Sans" >0.6</text>
<path d="M24 340h2" stroke="#555" stroke-width="0.4"/>
<text x="23.5" y="353.1" font-size="4.3" text-anchor="end" font-weight="normal" fill="#222" font-family="Liberation Sans" >0.4</text>
<path d="M24 351.6h2" stroke="#555" stroke-width="0.4"/>
<text x="23.5" y="364.7" font-size="4.3" text-anchor="end" font-weight="normal" fill="#222" font-family="Liberation Sans" >0.2</text>
<path d="M24 363.2h2" stroke="#555" stroke-width="0.4"/>
<text x="23.5" y="376.2" font-size="4.3" text-anchor="end" font-weight="normal" fill="#222" font-family="Liberation Sans" >0</text>
<path d="M24 374.8h2" stroke="#555" stroke-width="0.4"/>
<text x="23.5" y="387.8" font-size="4.3" text-anchor="end" font-weight="normal" fill="#222" font-family="Liberation Sans" >-0.2</text>
<path d="M24 386.3h2" stroke="#555" stroke-width="0.4"/>
<text x="23.5" y="399.4" font-size="4.3" text-anchor="end" font-weight="normal" fill="#222" font-family="Liberation Sans" >-0.4</text>
<path d="M24 397.9h2" stroke="#555" stroke-width="0.4"/>
<text x="23.5" y="411" font-size="4.3" text-anchor="end" font-weight="normal" fill="#222" font-family="Liberation Sans" >-0.6</text>
<path d="M24 409.5h2" stroke="#555" stroke-width="0.4"/>
<text x="23.5" y="422.6" font-size="4.3" text-anchor="end" font-weight="normal" fill="#222" font-family="Liberation Sans" >-0.8</text>
<path d="M24 421.1h2" stroke="#555" stroke-width="0.4"/>
<text x="23.5" y="434.2" font-size="4.3" text-anchor="end" font-weight="normal" fill="#222" font-family="Liberation Sans" >-1</text>
<path d="M24 432.7h2" stroke="#555" stroke-width="0.4"/>
<text x="23.5" y="445.8" font-size="4.3" text-anchor="end" font-weight="normal" fill="#222" font-family="Liberation Sans" >-1.2</text>
<path d="M24 444.3h2" stroke="#555" stroke-width="0.4"/>
<text x="26" y="453.3" font-size="4.3" text-anchor="middle" font-weight="normal" fill="#222" font-family="Liberation Sans" >-1.2</text>
<path d="M26 444.3v2" stroke="#555" stroke-width="0.4"/>
<text x="36.2" y="453.3" font-size="4.3" text-anchor="middle" font-weight="normal" fill="#222" font-family="Liberation Sans" >-1</text>
<path d="M36.2 444.3v2" stroke="#555" stroke-width="0.4"/>
<text x="61.7" y="453.3" font-size="4.3" text-anchor="middle" font-weight="normal" fill="#222" font-family="Liberation Sans" >-0.5</text>
<path d="M61.7 444.3v2" stroke="#555" stroke-width="0.4"/>
<text x="87.2" y="453.3" font-size="4.3" text-anchor="middle" font-weight="normal" fill="#222" font-family="Liberation Sans" >0</text>
<path d="M87.2 444.3v2" stroke="#555" stroke-width="0.4"/>
<text x="112.6" y="453.3" font-size="4.3" text-anchor="middle" font-weight="normal" fill="#222" font-family="Liberation Sans" >0.5</text>
<path d="M112.6 444.3v2" stroke="#555" stroke-width="0.4"/>
<text x="138.1" y="453.3" font-size="4.3" text-anchor="middle" font-weight="normal" fill="#222" font-family="Liberation Sans" >1</text>
<path d="M138.1 444.3v2" stroke="#555" stroke-width="0.4"/>
<text x="148.3" y="453.3" font-size="4.3" text-anchor="middle" font-weight="normal" fill="#222" font-family="Liberation Sans" >1.2</text>
<path d="M148.3 444.3v2" stroke="#555" stroke-width="0.4"/>
<text x="87.2" y="459.3" font-size="4.2" text-anchor="middle" font-weight="normal" fill="#333" font-family="Liberation Sans" >I</text>
<text x="0" y="0" font-size="4.5" text-anchor="middle" font-weight="normal" fill="#333" font-family="Liberation Sans" transform="translate(13.7 374.8) rotate(-90)">Q</text>
<rect x="8.5" y="457" width="4" height="4" fill="#fff" stroke="#666" stroke-width="0.5"/>
<path d="M9.1 459l1.2 1.5l2-3.5" stroke="#222" stroke-width="0.6" fill="none"/>
<text x="13.5" y="461.5" font-size="4.6" text-anchor="start" font-weight="normal" fill="#222" font-family="Liberation Sans" >Autoscale</text>
<defs><filter id="c11r" filterUnits="userSpaceOnUse" x="26" y="305.2" width="122.3" height="139.1" color-interpolation-filters="sRGB"><feGaussianBlur in="SourceAlpha" stdDeviation="2.6" result="b"/><feTurbulence type="fractalNoise" baseFrequency="0.6" numOctaves="1" seed="12" result="n"/><feColorMatrix in="n" type="matrix" values="0 0 0 0 0 0 0 0 0 0 0 0 0 0 0 1 0 0 0 0" result="na"/><feComposite in="b" in2="na" operator="arithmetic" k1="0" k2="0.4" k3="-1" k4="0.718" result="d"/><feComponentTransfer in="d" result="m"><feFuncA type="discrete" tableValues="0 1"/></feComponentTransfer><feGaussianBlur in="m" stdDeviation="0.35" result="m2"/><feFlood flood-color="#ff0d0d"/><feComposite in2="m2" operator="in"/></filter><filter id="c11h" filterUnits="userSpaceOnUse" x="26" y="305.2" width="122.3" height="139.1" color-interpolation-filters="sRGB"><feGaussianBlur in="SourceAlpha" stdDeviation="2.4" result="b"/><feTurbulence type="fractalNoise" baseFrequency="0.7" numOctaves="1" seed="13" result="n"/><feColorMatrix in="n" type="matrix" values="0 0 0 0 0 0 0 0 0 0 0 0 0 0 0 1 0 0 0 0" result="na"/><feComposite in="b" in2="na" operator="arithmetic" k1="0" k2="0.4" k3="-1" k4="0.65" result="d"/><feComponentTransfer in="d" result="m"><feFuncA type="discrete" tableValues="0 1"/></feComponentTransfer><feGaussianBlur in="m" stdDeviation="0.35" result="m2"/><feFlood flood-color="#2a90f2"/><feComposite in2="m2" operator="in"/></filter><filter id="c11b" filterUnits="userSpaceOnUse" x="26" y="305.2" width="122.3" height="139.1" color-interpolation-filters="sRGB"><feGaussianBlur in="SourceAlpha" stdDeviation="2" result="b"/><feTurbulence type="fractalNoise" baseFrequency="0.6" numOctaves="1" seed="14" result="n"/><feColorMatrix in="n" type="matrix" values="0 0 0 0 0 0 0 0 0 0 0 0 0 0 0 1 0 0 0 0" result="na"/><feComposite in="b" in2="na" operator="arithmetic" k1="0" k2="0.6" k3="-1" k4="0.6" result="d"/><feComponentTransfer in="d" result="m"><feFuncA type="discrete" tableValues="0 1"/></feComponentTransfer><feGaussianBlur in="m" stdDeviation="0.35" result="m2"/><feFlood flood-color="#2a90f2"/><feComposite in2="m2" operator="in"/></filter></defs>
<g filter="url(#c11r)"><ellipse cx="32.8" cy="436.6" rx="6.5" ry="7.5"/><ellipse cx="33.3" cy="417.9" rx="6.5" ry="7.5"/><ellipse cx="32.8" cy="401.9" rx="6.5" ry="7.5"/><ellipse cx="32.5" cy="382.7" rx="6.5" ry="7.5"/><ellipse cx="32" cy="366.2" rx="6.5" ry="7.5"/><ellipse cx="33" cy="348.2" rx="6.5" ry="7.5"/><ellipse cx="32.3" cy="330.5" rx="6.5" ry="7.5"/><ellipse cx="32.4" cy="313.2" rx="6.5" ry="7.5"/><ellipse cx="48.9" cy="437.4" rx="6.5" ry="7.5"/><ellipse cx="48.6" cy="418.4" rx="6.5" ry="7.5"/><ellipse cx="48.3" cy="400.3" rx="6.5" ry="7.5"/><ellipse cx="47.5" cy="384.4" rx="6.5" ry="7.5"/><ellipse cx="48.9" cy="366.3" rx="6.5" ry="7.5"/><ellipse cx="48.6" cy="348.5" rx="6.5" ry="7.5"/><ellipse cx="47.5" cy="330.9" rx="6.5" ry="7.5"/><ellipse cx="49.2" cy="313.3" rx="6.5" ry="7.5"/><ellipse cx="63.2" cy="436.5" rx="6.5" ry="7.5"/><ellipse cx="63.5" cy="419.5" rx="6.5" ry="7.5"/><ellipse cx="63.8" cy="400.2" rx="6.5" ry="7.5"/><ellipse cx="63.9" cy="382.9" rx="6.5" ry="7.5"/><ellipse cx="64.7" cy="365.1" rx="6.5" ry="7.5"/><ellipse cx="64.2" cy="347.7" rx="6.5" ry="7.5"/><ellipse cx="64.6" cy="330.4" rx="6.5" ry="7.5"/><ellipse cx="63.2" cy="312.3" rx="6.5" ry="7.5"/><ellipse cx="79.7" cy="436.5" rx="6.5" ry="7.5"/><ellipse cx="79.5" cy="418.8" rx="6.5" ry="7.5"/><ellipse cx="80.3" cy="402" rx="6.5" ry="7.5"/><ellipse cx="80" cy="382.6" rx="6.5" ry="7.5"/><ellipse cx="79.5" cy="365.8" rx="6.5" ry="7.5"/><ellipse cx="79.9" cy="348.9" rx="6.5" ry="7.5"/><ellipse cx="80.1" cy="330.5" rx="6.5" ry="7.5"/><ellipse cx="79.4" cy="313.4" rx="6.5" ry="7.5"/><ellipse cx="95.7" cy="435.7" rx="6.5" ry="7.5"/><ellipse cx="94.3" cy="418.7" rx="6.5" ry="7.5"/><ellipse cx="95.1" cy="401.2" rx="6.5" ry="7.5"/><ellipse cx="95.4" cy="383.4" rx="6.5" ry="7.5"/><ellipse cx="95.2" cy="366.1" rx="6.5" ry="7.5"/><ellipse cx="94" cy="347.7" rx="6.5" ry="7.5"/><ellipse cx="95.1" cy="331.2" rx="6.5" ry="7.5"/><ellipse cx="94.6" cy="312.6" rx="6.5" ry="7.5"/><ellipse cx="110.9" cy="435.6" rx="6.5" ry="7.5"/><ellipse cx="111.3" cy="419.4" rx="6.5" ry="7.5"/><ellipse cx="110.6" cy="401" rx="6.5" ry="7.5"/><ellipse cx="110.8" cy="383.7" rx="6.5" ry="7.5"/><ellipse cx="110.6" cy="365.1" rx="6.5" ry="7.5"/><ellipse cx="109.5" cy="347.6" rx="6.5" ry="7.5"/><ellipse cx="110.9" cy="331.5" rx="6.5" ry="7.5"/><ellipse cx="109.8" cy="313.3" rx="6.5" ry="7.5"/><ellipse cx="126.7" cy="437.4" rx="6.5" ry="7.5"/><ellipse cx="125.7" cy="418.6" rx="6.5" ry="7.5"/><ellipse cx="126" cy="401.3" rx="6.5" ry="7.5"/><ellipse cx="125.2" cy="384.1" rx="6.5" ry="7.5"/><ellipse cx="126.3" cy="366.4" rx="6.5" ry="7.5"/><ellipse cx="126.5" cy="348.2" rx="6.5" ry="7.5"/><ellipse cx="125.1" cy="331" rx="6.5" ry="7.5"/><ellipse cx="126.1" cy="312.5" rx="6.5" ry="7.5"/><ellipse cx="141.5" cy="437.4" rx="6.5" ry="7.5"/><ellipse cx="140.4" cy="418.7" rx="6.5" ry="7.5"/><ellipse cx="141" cy="401.2" rx="6.5" ry="7.5"/><ellipse cx="142.3" cy="383.7" rx="6.5" ry="7.5"/><ellipse cx="141" cy="365.6" rx="6.5" ry="7.5"/><ellipse cx="140.4" cy="348.1" rx="6.5" ry="7.5"/><ellipse cx="141" cy="330.4" rx="6.5" ry="7.5"/><ellipse cx="140.7" cy="312.2" rx="6.5" ry="7.5"/></g>
<g filter="url(#c11h)"><circle cx="32.9" cy="436.5" r="7.2"/><circle cx="32.9" cy="418.8" r="7.2"/><circle cx="32.9" cy="401.2" r="7.2"/><circle cx="32.9" cy="383.6" r="7.2"/><circle cx="32.9" cy="365.9" r="7.2"/><circle cx="32.9" cy="348.3" r="7.2"/><circle cx="32.9" cy="330.7" r="7.2"/><circle cx="32.9" cy="313" r="7.2"/><circle cx="48.4" cy="436.5" r="7.2"/><circle cx="48.4" cy="418.8" r="7.2"/><circle cx="48.4" cy="401.2" r="7.2"/><circle cx="48.4" cy="383.6" r="7.2"/><circle cx="48.4" cy="365.9" r="7.2"/><circle cx="48.4" cy="348.3" r="7.2"/><circle cx="48.4" cy="330.7" r="7.2"/><circle cx="48.4" cy="313" r="7.2"/><circle cx="63.9" cy="436.5" r="7.2"/><circle cx="63.9" cy="418.8" r="7.2"/><circle cx="63.9" cy="401.2" r="7.2"/><circle cx="63.9" cy="383.6" r="7.2"/><circle cx="63.9" cy="365.9" r="7.2"/><circle cx="63.9" cy="348.3" r="7.2"/><circle cx="63.9" cy="330.7" r="7.2"/><circle cx="63.9" cy="313" r="7.2"/><circle cx="79.4" cy="436.5" r="7.2"/><circle cx="79.4" cy="418.8" r="7.2"/><circle cx="79.4" cy="401.2" r="7.2"/><circle cx="79.4" cy="383.6" r="7.2"/><circle cx="79.4" cy="365.9" r="7.2"/><circle cx="79.4" cy="348.3" r="7.2"/><circle cx="79.4" cy="330.7" r="7.2"/><circle cx="79.4" cy="313" r="7.2"/><circle cx="94.9" cy="436.5" r="7.2"/><circle cx="94.9" cy="418.8" r="7.2"/><circle cx="94.9" cy="401.2" r="7.2"/><circle cx="94.9" cy="383.6" r="7.2"/><circle cx="94.9" cy="365.9" r="7.2"/><circle cx="94.9" cy="348.3" r="7.2"/><circle cx="94.9" cy="330.7" r="7.2"/><circle cx="94.9" cy="313" r="7.2"/><circle cx="110.4" cy="436.5" r="7.2"/><circle cx="110.4" cy="418.8" r="7.2"/><circle cx="110.4" cy="401.2" r="7.2"/><circle cx="110.4" cy="383.6" r="7.2"/><circle cx="110.4" cy="365.9" r="7.2"/><circle cx="110.4" cy="348.3" r="7.2"/><circle cx="110.4" cy="330.7" r="7.2"/><circle cx="110.4" cy="313" r="7.2"/><circle cx="125.9" cy="436.5" r="7.2"/><circle cx="125.9" cy="418.8" r="7.2"/><circle cx="125.9" cy="401.2" r="7.2"/><circle cx="125.9" cy="383.6" r="7.2"/><circle cx="125.9" cy="365.9" r="7.2"/><circle cx="125.9" cy="348.3" r="7.2"/><circle cx="125.9" cy="330.7" r="7.2"/><circle cx="125.9" cy="313" r="7.2"/><circle cx="141.4" cy="436.5" r="7.2"/><circle cx="141.4" cy="418.8" r="7.2"/><circle cx="141.4" cy="401.2" r="7.2"/><circle cx="141.4" cy="383.6" r="7.2"/><circle cx="141.4" cy="365.9" r="7.2"/><circle cx="141.4" cy="348.3" r="7.2"/><circle cx="141.4" cy="330.7" r="7.2"/><circle cx="141.4" cy="313" r="7.2"/></g>
<g filter="url(#c11b)"><circle cx="34.7" cy="436.3" r="4.7"/><circle cx="33.3" cy="434.8" r="4.7"/><circle cx="33.5" cy="438" r="3.8"/><circle cx="32" cy="434.3" r="5.3"/><circle cx="35" cy="421.2" r="5"/><circle cx="33.4" cy="417" r="3.6"/><circle cx="33" cy="416.5" r="4"/><circle cx="31.7" cy="416.4" r="4.6"/><circle cx="33" cy="401.9" r="4.6"/><circle cx="33.6" cy="401" r="4.2"/><circle cx="35.1" cy="403.8" r="5.4"/><circle cx="33.8" cy="400.2" r="4.1"/><circle cx="34.1" cy="383" r="5.4"/><circle cx="32.4" cy="385.9" r="5.4"/><circle cx="30.7" cy="382.1" r="5.5"/><circle cx="32.7" cy="386.1" r="4.4"/><circle cx="34.1" cy="364.7" r="3.8"/><circle cx="32.1" cy="368.4" r="5.2"/><circle cx="31.2" cy="364.6" r="3.8"/><circle cx="30.9" cy="367.5" r="4"/><circle cx="31.5" cy="349.5" r="3.9"/><circle cx="33.5" cy="346.3" r="4.5"/><circle cx="31.6" cy="347.1" r="5.6"/><circle cx="34.2" cy="347.3" r="5.5"/><circle cx="34.4" cy="331.4" r="3.8"/><circle cx="35" cy="329.2" r="4.1"/><circle cx="34.1" cy="329.8" r="4.2"/><circle cx="31" cy="328.6" r="4.8"/><circle cx="32.3" cy="312.8" r="5.6"/><circle cx="32.8" cy="313.4" r="5.4"/><circle cx="31.5" cy="311.2" r="5.5"/><circle cx="34.3" cy="311.7" r="4"/><circle cx="47.1" cy="438.8" r="5.5"/><circle cx="48.9" cy="436.1" r="3.8"/><circle cx="46.4" cy="438.9" r="4.1"/><circle cx="49.3" cy="435.2" r="5.3"/><circle cx="47" cy="419.9" r="3.7"/><circle cx="47.2" cy="419.1" r="5.4"/><circle cx="48.9" cy="417.7" r="5.5"/><circle cx="47.1" cy="416.3" r="4.2"/><circle cx="47" cy="400.5" r="4.8"/><circle cx="46.8" cy="400.5" r="5.5"/><circle cx="50.5" cy="402" r="5.1"/><circle cx="48.8" cy="399.3" r="3.7"/><circle cx="49.3" cy="386" r="3.6"/><circle cx="49" cy="383.5" r="5.1"/><circle cx="47.6" cy="386.2" r="3.8"/><circle cx="48.6" cy="384.8" r="5.5"/><circle cx="49.7" cy="368.1" r="4.3"/><circle cx="49.2" cy="368" r="5.4"/><circle cx="48.1" cy="367.5" r="5.4"/><circle cx="48.7" cy="366.6" r="4.4"/><circle cx="46.6" cy="349" r="5.7"/><circle cx="50.1" cy="349.5" r="4.4"/><circle cx="49.5" cy="348.7" r="4.5"/><circle cx="49.9" cy="346.2" r="5.2"/><circle cx="48.3" cy="329.3" r="5.1"/><circle cx="48.4" cy="331.3" r="5.5"/><circle cx="47.3" cy="328.2" r="4.2"/><circle cx="49.2" cy="329.2" r="4"/><circle cx="48.2" cy="315.1" r="4.3"/><circle cx="49.2" cy="311.5" r="4.5"/><circle cx="49.8" cy="315.2" r="5.4"/><circle cx="47.9" cy="313.5" r="4.3"/><circle cx="65.4" cy="438.3" r="5.1"/><circle cx="65.9" cy="435.3" r="4"/><circle cx="63.7" cy="435.3" r="4"/><circle cx="63.5" cy="437.1" r="4.6"/><circle cx="66" cy="418.6" r="3.8"/><circle cx="61.9" cy="420.7" r="3.7"/><circle cx="64.8" cy="419.2" r="4.2"/><circle cx="65.2" cy="416.3" r="3.9"/><circle cx="65.4" cy="399.8" r="3.9"/><circle cx="61.9" cy="401.9" r="4.5"/><circle cx="64.5" cy="402" r="5.3"/><circle cx="65.9" cy="402.1" r="4"/><circle cx="61.8" cy="383.4" r="5.1"/><circle cx="62.5" cy="382.4" r="4.3"/><circle cx="64.8" cy="383.7" r="4.9"/><circle cx="65" cy="383" r="5.3"/><circle cx="65.8" cy="367.1" r="3.9"/><circle cx="63.7" cy="366.6" r="5.5"/><circle cx="63.4" cy="366.3" r="5.4"/><circle cx="65.2" cy="368.3" r="4.6"/><circle cx="64.9" cy="350" r="4.9"/><circle cx="64.9" cy="346.8" r="5.5"/><circle cx="66" cy="350.8" r="4.7"/><circle cx="65.2" cy="347.4" r="5.5"/><circle cx="62.1" cy="330.4" r="4.8"/><circle cx="65.1" cy="330.6" r="3.7"/><circle cx="65.3" cy="328.4" r="5.3"/><circle cx="62.5" cy="329.8" r="5.3"/><circle cx="64" cy="314.2" r="5.4"/><circle cx="64.7" cy="315.3" r="4.6"/><circle cx="65.9" cy="310.9" r="4.1"/><circle cx="64" cy="311.9" r="5.1"/><circle cx="80.9" cy="436.8" r="4.3"/><circle cx="78.9" cy="438.3" r="5.5"/><circle cx="78.1" cy="438.3" r="5.6"/><circle cx="79.5" cy="436.9" r="4"/><circle cx="79.9" cy="416.3" r="5.6"/><circle cx="79.5" cy="418.3" r="5.3"/><circle cx="79.7" cy="418.8" r="5.1"/><circle cx="77.5" cy="419" r="4.5"/><circle cx="78.4" cy="401" r="3.9"/><circle cx="79.1" cy="402.8" r="5.5"/><circle cx="79.3" cy="400.2" r="4"/><circle cx="79.9" cy="403.4" r="3.9"/><circle cx="78.1" cy="382.1" r="5"/><circle cx="78.6" cy="382.8" r="4.9"/><circle cx="77.7" cy="384.8" r="3.9"/><circle cx="79.5" cy="382.3" r="4"/><circle cx="78.9" cy="365.5" r="4.7"/><circle cx="77.9" cy="364.4" r="4.9"/><circle cx="80" cy="366.1" r="5.4"/><circle cx="79.9" cy="367.8" r="4.1"/><circle cx="81.2" cy="347.4" r="4.3"/><circle cx="81.3" cy="346.9" r="5.7"/><circle cx="81.1" cy="346.4" r="4.1"/><circle cx="80.4" cy="347.1" r="3.8"/><circle cx="80.7" cy="328.8" r="4.4"/><circle cx="80.2" cy="328.2" r="4"/><circle cx="80.2" cy="332.8" r="5.6"/><circle cx="77.7" cy="330.7" r="5.2"/><circle cx="78" cy="310.8" r="3.8"/><circle cx="77.4" cy="313.3" r="4.7"/><circle cx="79.7" cy="311.2" r="4"/><circle cx="78.1" cy="314.8" r="5.7"/><circle cx="93" cy="438.8" r="4.6"/><circle cx="96.1" cy="435.6" r="4.6"/><circle cx="95" cy="436.1" r="4.9"/><circle cx="92.8" cy="437.5" r="5.4"/><circle cx="95.9" cy="418.3" r="4"/><circle cx="93.4" cy="418.9" r="3.6"/><circle cx="96.6" cy="420.4" r="5.1"/><circle cx="96.5" cy="419.5" r="4.4"/><circle cx="97" cy="402.8" r="4.1"/><circle cx="96.7" cy="402.5" r="5.2"/><circle cx="96.3" cy="400.7" r="5.5"/><circle cx="96.6" cy="402.2" r="5.2"/><circle cx="95.9" cy="381.3" r="4.3"/><circle cx="94.8" cy="381" r="4.3"/><circle cx="95.5" cy="384.2" r="4.1"/><circle cx="96.9" cy="384.4" r="4.3"/><circle cx="95" cy="365.4" r="5.7"/><circle cx="95.5" cy="367" r="5.2"/><circle cx="97" cy="363.5" r="4.9"/><circle cx="95.9" cy="364.7" r="4.4"/><circle cx="94.3" cy="346.2" r="4.1"/><circle cx="96.7" cy="348.6" r="4.7"/><circle cx="97" cy="348.7" r="5.7"/><circle cx="95.5" cy="349.9" r="3.8"/><circle cx="92.9" cy="332.9" r="3.9"/><circle cx="94.8" cy="329" r="4.6"/><circle cx="95.4" cy="328.4" r="5.6"/><circle cx="94.5" cy="330.8" r="4.9"/><circle cx="95.6" cy="313.3" r="4.2"/><circle cx="95.8" cy="312" r="3.6"/><circle cx="93.8" cy="310.6" r="3.9"/><circle cx="96" cy="312.5" r="5.5"/><circle cx="112.5" cy="438.8" r="3.8"/><circle cx="112.2" cy="436.1" r="4.6"/><circle cx="112.5" cy="435.1" r="4.7"/><circle cx="112.3" cy="437.6" r="4.6"/><circle cx="110.8" cy="416.8" r="4.9"/><circle cx="110.2" cy="417.3" r="3.7"/><circle cx="110.5" cy="416.8" r="4.5"/><circle cx="111.1" cy="418.6" r="4.2"/><circle cx="111.6" cy="401.3" r="5.7"/><circle cx="112.4" cy="402.4" r="4.1"/><circle cx="108.7" cy="403.2" r="5.2"/><circle cx="110.9" cy="400.4" r="4.2"/><circle cx="110.8" cy="384.3" r="5.2"/><circle cx="109" cy="382.3" r="5.7"/><circle cx="112.2" cy="385.5" r="3.7"/><circle cx="108.5" cy="382.4" r="4.5"/><circle cx="110.6" cy="363.7" r="3.8"/><circle cx="111.2" cy="366.2" r="4.9"/><circle cx="109.8" cy="365.8" r="4"/><circle cx="109.7" cy="367.2" r="5.4"/><circle cx="111.7" cy="349" r="5.2"/><circle cx="109.1" cy="347.9" r="4.1"/><circle cx="111.8" cy="347.6" r="5"/><circle cx="112.5" cy="347.4" r="4.8"/><circle cx="110.1" cy="330" r="3.8"/><circle cx="112" cy="328.5" r="3.8"/><circle cx="110.7" cy="330.6" r="5"/><circle cx="109.5" cy="332.1" r="3.8"/><circle cx="108.5" cy="312" r="5.1"/><circle cx="111.2" cy="311.9" r="3.9"/><circle cx="109.8" cy="314.2" r="4.4"/><circle cx="108.7" cy="314.1" r="4.8"/><circle cx="127.7" cy="436.2" r="5.3"/><circle cx="125" cy="435.5" r="4.4"/><circle cx="127.8" cy="438.5" r="4.1"/><circle cx="125.3" cy="435.8" r="4.4"/><circle cx="124.5" cy="419.1" r="5.3"/><circle cx="126.1" cy="420.5" r="4.8"/><circle cx="124.5" cy="420.1" r="5.4"/><circle cx="124.9" cy="416.3" r="4.7"/><circle cx="127.9" cy="402" r="5.3"/><circle cx="124" cy="401.4" r="5.3"/><circle cx="124" cy="399" r="5.1"/><circle cx="127.6" cy="399" r="4.9"/><circle cx="126.5" cy="382.2" r="4.1"/><circle cx="127" cy="383.7" r="5.2"/><circle cx="125.4" cy="382.7" r="5.6"/><circle cx="126.6" cy="383.5" r="4.7"/><circle cx="127.7" cy="365.5" r="5.3"/><circle cx="126.6" cy="367.8" r="5.3"/><circle cx="127.3" cy="368" r="5.6"/><circle cx="126.5" cy="366.1" r="5.1"/><circle cx="125.5" cy="346.5" r="5.2"/><circle cx="128" cy="347.7" r="4"/><circle cx="124.6" cy="347.9" r="4.2"/><circle cx="127.9" cy="346" r="4.2"/><circle cx="127.1" cy="329" r="3.7"/><circle cx="125.7" cy="331.1" r="5.5"/><circle cx="123.8" cy="328.7" r="4"/><circle cx="124.6" cy="329.3" r="5.1"/><circle cx="124.5" cy="311.9" r="4"/><circle cx="127" cy="312" r="4.8"/><circle cx="127.3" cy="312.9" r="4.1"/><circle cx="127.6" cy="315.2" r="4.3"/><circle cx="141.3" cy="435" r="3.7"/><circle cx="143.4" cy="438" r="4.4"/><circle cx="141.5" cy="436.6" r="4.2"/><circle cx="143.6" cy="437.3" r="4.1"/><circle cx="140.9" cy="420.3" r="5.1"/><circle cx="141.9" cy="417" r="3.9"/><circle cx="140.6" cy="417.5" r="5.4"/><circle cx="141.5" cy="419.5" r="5.7"/><circle cx="139.9" cy="402.6" r="3.6"/><circle cx="142.8" cy="403" r="5.3"/><circle cx="139.6" cy="400" r="5.1"/><circle cx="139.6" cy="401.1" r="4.6"/><circle cx="143" cy="382.5" r="5.3"/><circle cx="141.1" cy="385.7" r="3.8"/><circle cx="142.9" cy="382" r="4.7"/><circle cx="141.5" cy="381.8" r="5.3"/><circle cx="139.6" cy="364.9" r="4.6"/><circle cx="142.4" cy="365.2" r="5"/><circle cx="139.7" cy="365.4" r="4.6"/><circle cx="143.5" cy="367.7" r="5"/><circle cx="142.3" cy="347" r="4.8"/><circle cx="141.2" cy="345.8" r="5.7"/><circle cx="142.7" cy="346.8" r="4.9"/><circle cx="140.5" cy="347.7" r="4.7"/><circle cx="140.9" cy="331.6" r="4.1"/><circle cx="140.1" cy="331.9" r="4.3"/><circle cx="143.4" cy="331" r="5.1"/><circle cx="140.7" cy="332.4" r="3.8"/><circle cx="142.2" cy="314.1" r="4"/><circle cx="141" cy="314.8" r="4.8"/><circle cx="139.6" cy="311.6" r="3.9"/><circle cx="139.8" cy="312.5" r="3.8"/></g>
<defs><filter id="c11t" filterUnits="userSpaceOnUse" x="26" y="305.2" width="122.3" height="139.1" color-interpolation-filters="sRGB"><feGaussianBlur in="SourceAlpha" stdDeviation="2.6" result="b"/><feTurbulence type="fractalNoise" baseFrequency="0.6" numOctaves="1" seed="18" result="n"/><feColorMatrix in="n" type="matrix" values="0 0 0 0 0 0 0 0 0 0 0 0 0 0 0 1 0 0 0 0" result="na"/><feComposite in="b" in2="na" operator="arithmetic" k1="0" k2="0.4" k3="-1" k4="0.47" result="d"/><feComponentTransfer in="d" result="m"><feFuncA type="discrete" tableValues="0 1"/></feComponentTransfer><feGaussianBlur in="m" stdDeviation="0.35" result="m2"/><feFlood flood-color="#ff0d0d"/><feComposite in2="m2" operator="in"/></filter></defs>
<g filter="url(#c11t)"><ellipse cx="32.8" cy="436.6" rx="6.5" ry="7.5"/><ellipse cx="33.3" cy="417.9" rx="6.5" ry="7.5"/><ellipse cx="32.8" cy="401.9" rx="6.5" ry="7.5"/><ellipse cx="32.5" cy="382.7" rx="6.5" ry="7.5"/><ellipse cx="32" cy="366.2" rx="6.5" ry="7.5"/><ellipse cx="33" cy="348.2" rx="6.5" ry="7.5"/><ellipse cx="32.3" cy="330.5" rx="6.5" ry="7.5"/><ellipse cx="32.4" cy="313.2" rx="6.5" ry="7.5"/><ellipse cx="48.9" cy="437.4" rx="6.5" ry="7.5"/><ellipse cx="48.6" cy="418.4" rx="6.5" ry="7.5"/><ellipse cx="48.3" cy="400.3" rx="6.5" ry="7.5"/><ellipse cx="47.5" cy="384.4" rx="6.5" ry="7.5"/><ellipse cx="48.9" cy="366.3" rx="6.5" ry="7.5"/><ellipse cx="48.6" cy="348.5" rx="6.5" ry="7.5"/><ellipse cx="47.5" cy="330.9" rx="6.5" ry="7.5"/><ellipse cx="49.2" cy="313.3" rx="6.5" ry="7.5"/><ellipse cx="63.2" cy="436.5" rx="6.5" ry="7.5"/><ellipse cx="63.5" cy="419.5" rx="6.5" ry="7.5"/><ellipse cx="63.8" cy="400.2" rx="6.5" ry="7.5"/><ellipse cx="63.9" cy="382.9" rx="6.5" ry="7.5"/><ellipse cx="64.7" cy="365.1" rx="6.5" ry="7.5"/><ellipse cx="64.2" cy="347.7" rx="6.5" ry="7.5"/><ellipse cx="64.6" cy="330.4" rx="6.5" ry="7.5"/><ellipse cx="63.2" cy="312.3" rx="6.5" ry="7.5"/><ellipse cx="79.7" cy="436.5" rx="6.5" ry="7.5"/><ellipse cx="79.5" cy="418.8" rx="6.5" ry="7.5"/><ellipse cx="80.3" cy="402" rx="6.5" ry="7.5"/><ellipse cx="80" cy="382.6" rx="6.5" ry="7.5"/><ellipse cx="79.5" cy="365.8" rx="6.5" ry="7.5"/><ellipse cx="79.9" cy="348.9" rx="6.5" ry="7.5"/><ellipse cx="80.1" cy="330.5" rx="6.5" ry="7.5"/><ellipse cx="79.4" cy="313.4" rx="6.5" ry="7.5"/><ellipse cx="95.7" cy="435.7" rx="6.5" ry="7.5"/><ellipse cx="94.3" cy="418.7" rx="6.5" ry="7.5"/><ellipse cx="95.1" cy="401.2" rx="6.5" ry="7.5"/><ellipse cx="95.4" cy="383.4" rx="6.5" ry="7.5"/><ellipse cx="95.2" cy="366.1" rx="6.5" ry="7.5"/><ellipse cx="94" cy="347.7" rx="6.5" ry="7.5"/><ellipse cx="95.1" cy="331.2" rx="6.5" ry="7.5"/><ellipse cx="94.6" cy="312.6" rx="6.5" ry="7.5"/><ellipse cx="110.9" cy="435.6" rx="6.5" ry="7.5"/><ellipse cx="111.3" cy="419.4" rx="6.5" ry="7.5"/><ellipse cx="110.6" cy="401" rx="6.5" ry="7.5"/><ellipse cx="110.8" cy="383.7" rx="6.5" ry="7.5"/><ellipse cx="110.6" cy="365.1" rx="6.5" ry="7.5"/><ellipse cx="109.5" cy="347.6" rx="6.5" ry="7.5"/><ellipse cx="110.9" cy="331.5" rx="6.5" ry="7.5"/><ellipse cx="109.8" cy="313.3" rx="6.5" ry="7.5"/><ellipse cx="126.7" cy="437.4" rx="6.5" ry="7.5"/><ellipse cx="125.7" cy="418.6" rx="6.5" ry="7.5"/><ellipse cx="126" cy="401.3" rx="6.5" ry="7.5"/><ellipse cx="125.2" cy="384.1" rx="6.5" ry="7.5"/><ellipse cx="126.3" cy="366.4" rx="6.5" ry="7.5"/><ellipse cx="126.5" cy="348.2" rx="6.5" ry="7.5"/><ellipse cx="125.1" cy="331" rx="6.5" ry="7.5"/><ellipse cx="126.1" cy="312.5" rx="6.5" ry="7.5"/><ellipse cx="141.5" cy="437.4" rx="6.5" ry="7.5"/><ellipse cx="140.4" cy="418.7" rx="6.5" ry="7.5"/><ellipse cx="141" cy="401.2" rx="6.5" ry="7.5"/><ellipse cx="142.3" cy="383.7" rx="6.5" ry="7.5"/><ellipse cx="141" cy="365.6" rx="6.5" ry="7.5"/><ellipse cx="140.4" cy="348.1" rx="6.5" ry="7.5"/><ellipse cx="141" cy="330.4" rx="6.5" ry="7.5"/><ellipse cx="140.7" cy="312.2" rx="6.5" ry="7.5"/></g>
<rect x="156.4" y="289.7" width="153.1" height="85.8" fill="#dcdcdc"/>
<path d="M156.4 375.5V289.7H309.5" stroke="#f0f0f0" stroke-width="0.8" fill="none"/>
<path d="M156.4 375.5H309.5V289.7" stroke="#bdbdbd" stroke-width="0.8" fill="none"/>
<rect x="159.2" y="291.4" width="25" height="3.6" fill="#fff"/>
<rect x="184.2" y="291.4" width="3" height="3.6" fill="#d0d0d0"/>
<rect x="266.5" y="291.4" width="9" height="3.6" fill="#eee"/>
<rect x="277.5" y="291.4" width="6" height="3.6" fill="#fff"/>
<rect x="284.5" y="291.4" width="13" height="3.6" fill="#eee"/>
<rect x="299.5" y="291.4" width="6" height="3.6" fill="#fff"/>
<text x="271" y="294.2" font-size="2.6" text-anchor="middle" font-weight="normal" fill="#555" font-family="Liberation Sans" >With DPD</text>
<text x="291" y="294.2" font-size="2.6" text-anchor="middle" font-weight="normal" fill="#555" font-family="Liberation Sans" >Without DPD</text>
<rect x="168.4" y="296.5" width="136.9" height="69.5" fill="#fff"/>
<path d="M182.1 296.5V366M195.8 296.5V366M209.5 296.5V366M223.2 296.5V366M236.9 296.5V366M250.5 296.5V366M264.2 296.5V366M277.9 296.5V366M291.6 296.5V366M168.4 300.8H305.3M168.4 305.2H305.3M168.4 309.5H305.3M168.4 313.9H305.3M168.4 318.2H305.3M168.4 322.6H305.3M168.4 326.9H305.3M168.4 331.2H305.3M168.4 335.6H305.3M168.4 339.9H305.3M168.4 344.3H305.3M168.4 348.6H305.3M168.4 353H305.3M168.4 357.3H305.3M168.4 361.7H305.3" stroke="#efefef" stroke-width="0.5"/>
<text x="166.2" y="297.4" font-size="2.6" text-anchor="end" font-weight="normal" fill="#333" font-family="Liberation Sans" >80</text>
<text x="166.2" y="301.7" font-size="2.6" text-anchor="end" font-weight="normal" fill="#333" font-family="Liberation Sans" >70</text>
<text x="166.2" y="306.1" font-size="2.6" text-anchor="end" font-weight="normal" fill="#333" font-family="Liberation Sans" >60</text>
<text x="166.2" y="310.4" font-size="2.6" text-anchor="end" font-weight="normal" fill="#333" font-family="Liberation Sans" >50</text>
<text x="166.2" y="314.8" font-size="2.6" text-anchor="end" font-weight="normal" fill="#333" font-family="Liberation Sans" >40</text>
<text x="166.2" y="319.1" font-size="2.6" text-anchor="end" font-weight="normal" fill="#333" font-family="Liberation Sans" >30</text>
<text x="166.2" y="323.5" font-size="2.6" text-anchor="end" font-weight="normal" fill="#333" font-family="Liberation Sans" >20</text>
<text x="166.2" y="327.8" font-size="2.6" text-anchor="end" font-weight="normal" fill="#333" font-family="Liberation Sans" >10</text>
<text x="166.2" y="332.1" font-size="2.6" text-anchor="end" font-weight="normal" fill="#333" font-family="Liberation Sans" >0</text>
<text x="166.2" y="336.5" font-size="2.6" text-anchor="end" font-weight="normal" fill="#333" font-family="Liberation Sans" >-10</text>
<text x="166.2" y="340.8" font-size="2.6" text-anchor="end" font-weight="normal" fill="#333" font-family="Liberation Sans" >-20</text>
<text x="166.2" y="345.2" font-size="2.6" text-anchor="end" font-weight="normal" fill="#333" font-family="Liberation Sans" >-30</text>
<text x="166.2" y="349.5" font-size="2.6" text-anchor="end" font-weight="normal" fill="#333" font-family="Liberation Sans" >-40</text>
<text x="166.2" y="353.9" font-size="2.6" text-anchor="end" font-weight="normal" fill="#333" font-family="Liberation Sans" >-50</text>
<text x="166.2" y="358.2" font-size="2.6" text-anchor="end" font-weight="normal" fill="#333" font-family="Liberation Sans" >-60</text>
<text x="166.2" y="362.6" font-size="2.6" text-anchor="end" font-weight="normal" fill="#333" font-family="Liberation Sans" >-70</text>
<text x="166.2" y="366.9" font-size="2.6" text-anchor="end" font-weight="normal" fill="#333" font-family="Liberation Sans" >-80</text>
<text x="168.4" y="369.4" font-size="2.4" text-anchor="middle" font-weight="normal" fill="#444" font-family="Liberation Sans" >2.495G</text>
<text x="182.1" y="369.4" font-size="2.4" text-anchor="middle" font-weight="normal" fill="#444" font-family="Liberation Sans" >2.495G</text>
<text x="195.8" y="369.4" font-size="2.4" text-anchor="middle" font-weight="normal" fill="#444" font-family="Liberation Sans" >2.495G</text>
<text x="209.5" y="369.4" font-size="2.4" text-anchor="middle" font-weight="normal" fill="#444" font-family="Liberation Sans" >2.495G</text>
<text x="223.2" y="369.4" font-size="2.4" text-anchor="middle" font-weight="normal" fill="#444" font-family="Liberation Sans" >2.495G</text>
<text x="236.9" y="369.4" font-size="2.4" text-anchor="middle" font-weight="normal" fill="#444" font-family="Liberation Sans" >2.495G</text>
<text x="250.5" y="369.4" font-size="2.4" text-anchor="middle" font-weight="normal" fill="#444" font-family="Liberation Sans" >2.495G</text>
<text x="264.2" y="369.4" font-size="2.4" text-anchor="middle" font-weight="normal" fill="#444" font-family="Liberation Sans" >2.495G</text>
<text x="277.9" y="369.4" font-size="2.4" text-anchor="middle" font-weight="normal" fill="#444" font-family="Liberation Sans" >2.495G</text>
<text x="291.6" y="369.4" font-size="2.4" text-anchor="middle" font-weight="normal" fill="#444" font-family="Liberation Sans" >2.495G</text>
<text x="305.3" y="369.4" font-size="2.4" text-anchor="middle" font-weight="normal" fill="#444" font-family="Liberation Sans" >2.495G</text>
<text x="0" y="0" font-size="2.6" text-anchor="middle" font-weight="normal" fill="#333" font-family="Liberation Sans" transform="translate(162.6 327.2) rotate(-90)">Power (dBm)</text>
<text x="164.4" y="373.7" font-size="2.8" text-anchor="middle" font-weight="normal" fill="#333" font-family="Liberation Sans" >Cursor(s)</text>
<text x="242.9" y="372.6" font-size="2.5" text-anchor="middle" font-weight="normal" fill="#444" font-family="Liberation Sans" >Frequency (Hz)</text>
<path d="M168 359.3L168.5 359.5L169 358.2L169.5 358L170 357.4L170.5 357.4L171 357.5L171.5 357.9L172 358.5L172.5 358.2L173 358.4L173.5 357.9L174 357.6L174.5 357.5L175 357.8L175.5 357.9L176 357.7L176.5 359.2L177 359.2L177 363.2L168 363.2ZM177 362.2L177.5 362.1L178 360.8L178.5 360.5L179 360.2L179.5 360.4L180 360.5L180.5 360.4L181 361.1L181.5 360.9L182 361L182.5 360.6L183 360.2L183.5 360L184 360L184.5 360.1L185 360.3L185.5 362.1L186 362.2L186 365.7L177 365.7ZM187 350.8L187.5 350.5L188 349.1L188.5 348.9L189 348.3L189.5 348.7L190 348.7L190.5 348.9L191 349.1L191.5 349.5L192 349.2L192.5 349L193 348.8L193.5 348.5L194 348.3L194.5 348.8L195 348.9L195.5 350.2L196 350.2L196 354.2L187 354.2ZM197 343.9L197.5 343.5L198 342.6L198.5 342.5L199 342L199.5 342.3L200 342.8L200.5 342.5L201 342.7L201.5 343L202 342.7L202.5 342.3L203 341.8L203.5 342.1L204 342.8L204.5 344.1L205 344.2L205 347.7L197 347.7ZM206 338.2L206.5 338.6L207 337L207.5 336.9L208 336.3L208.5 336.9L209 336.9L209.5 337.4L210 337.2L210.5 337.5L211 337.3L211.5 336.9L212 336.5L212.5 336.7L213 336.6L213.5 336.9L214 338.1L214.5 338.6L214.5 342.2L206 342.2ZM261.5 339.2L262 339.2L262.5 337.8L263 337.9L263.5 337.6L264 337.6L264.5 337.5L265 338L265.5 338.2L266 338.2L266.5 338L267 338.4L267.5 337.5L268 337.4L268.5 337.4L269 337.8L269.5 337.8L270 339.3L270.5 339.4L270.5 343.2L261.5 343.2ZM271 345.2L271.5 344.5L272 343.4L272.5 343.2L273 343.4L273.5 343.1L274 343.4L274.5 343.8L275 343.8L275.5 343.6L276 343.7L276.5 343.7L277 343.3L277.5 342.9L278 343.4L278.5 343.8L279 344.7L279.5 345L279.5 348.7L271 348.7ZM280 351.3L280.5 351.2L281 349.9L281.5 349.5L282 349.5L282.5 349.3L283 349.8L283.5 349.9L284 350.6L284.5 350.5L285 349.9L285.5 350.1L286 349.4L286.5 349.5L287 349.8L287.5 349.9L288 351.2L288.5 351.4L288.5 355.2L280 355.2ZM289 359.7L289.5 360.1L290 358.2L290.5 358.4L291 357.9L291.5 358L292 358.4L292.5 358.5L293 358.7L293.5 358.7L294 358.5L294.5 358.4L295 358.4L295.5 357.9L296 358.5L296.5 359.6L297 360.2L297 363.7L289 363.7ZM297 358.3L297.5 358.6L298 357L298.5 356.4L299 356.2L299.5 356.5L300 357.3L300.5 357.1L301 357.4L301.5 357.2L302 356.9L302.5 356.9L303 356.3L303.5 356.8L304 357.1L304.5 358.6L305 358.5L305 362.2L297 362.2Z" fill="#ff0d0d"/>
<path d="M196 350V356" stroke="#ff0d0d" stroke-width="0.9"/>
<path d="M205 344V356" stroke="#ff0d0d" stroke-width="0.9"/>
<path d="M214.8 326V356" stroke="#ff0d0d" stroke-width="0.9"/>
<path d="M261.4 326V356" stroke="#ff0d0d" stroke-width="0.9"/>
<path d="M271 345V356" stroke="#ff0d0d" stroke-width="0.9"/>
<path d="M280 351V356" stroke="#ff0d0d" stroke-width="0.9"/>
<path d="M168 355L168.5 354.7L169 354.9L169.5 354.2L170 354.6L170.5 354.6L171 355.1L171.5 354.2L172 354.1L172.5 354.2L173 355L173.5 354.9L174 354.7L174.5 354.8L175 354.9L175.5 354.4L176 354.6L176.5 354.9L177 354.1L177.5 354.4L178 355L178.5 355L179 354.5L179.5 354.9L180 354.4L180.5 355L181 354.3L181.5 354.6L182 354.7L182.5 354.9L183 354.2L183.5 354.4L184 354.6L184.5 354.9L185 354.8L185.5 354.5L186 354.1L186 358.8L185.5 358.9L185 358.5L184.5 358.1L184 358.4L183.5 358.8L183 358.5L182.5 358.1L182 357.9L181.5 358.1L181 358.3L180.5 358.4L180 358.4L179.5 358.4L179 358.9L178.5 358.8L178 358.1L177.5 358.2L177 357.9L176.5 358.4L176 358.2L175.5 358.9L175 358L174.5 358.2L174 358.7L173.5 358.3L173 358.9L172.5 358.6L172 358.6L171.5 358L171 358.2L170.5 358.2L170 358.7L169.5 358L169 358.8L168.5 358.5L168 358.3ZM187 353.7L187.5 353.8L188 354.1L188.5 353.9L189 354.2L189.5 354.1L190 354L190.5 353.9L191 353.7L191.5 354L192 354.3L192.5 354.5L193 354.4L193.5 354.3L194 354.3L194.5 353.9L195 354.3L195.5 353.7L196 354.2L196 357.9L195.5 358L195 358L194.5 357.5L194 358L193.5 358.1L193 358.2L192.5 358.3L192 357.5L191.5 358.3L191 358.1L190.5 357.6L190 358.2L189.5 357.4L189 357.6L188.5 357.9L188 358.3L187.5 357.5L187 358.2ZM197 353.6L197.5 353.2L198 353.3L198.5 353.2L199 353.2L199.5 353.1L200 353.7L200.5 353.2L201 353.3L201.5 353.6L202 353.8L202.5 353.2L203 353.5L203.5 353L204 353.1L204.5 353.8L205 353.7L205 356.9L204.5 356.8L204 356.9L203.5 356.7L203 356.7L202.5 357.2L202 357L201.5 357.4L201 357L200.5 356.7L200 357.3L199.5 357.3L199 357.6L198.5 357.5L198 357.2L197.5 357.4L197 357.5ZM206 351.8L206.5 351.7L207 351.7L207.5 352L208 351.8L208.5 352.3L209 351.8L209.5 352.5L210 352.3L210.5 352.4L211 351.8L211.5 352.2L212 352.1L212.5 351.8L213 352L213.5 351.8L214 352.2L214.5 352.5L214.5 355.7L214 356L213.5 355.7L213 355.8L212.5 356.1L212 356.2L211.5 355.9L211 355.5L210.5 356.3L210 356.1L209.5 356.1L209 356L208.5 355.4L208 355.4L207.5 355.6L207 355.5L206.5 355.5L206 356.4ZM262 353.8L262.5 353.8L263 354L263.5 353.4L264 353.3L264.5 353.2L265 353.2L265.5 353.7L266 353.8L266.5 353.4L267 353.1L267.5 353.2L268 353.9L268.5 353.5L269 353.2L269.5 353.6L270 353.3L270.5 353.1L270.5 357.3L270 357.8L269.5 357.1L269 356.9L268.5 357.3L268 357.7L267.5 357L267 357.8L266.5 357.3L266 357.1L265.5 357.3L265 357.6L264.5 357.3L264 357.2L263.5 357.7L263 357.9L262.5 357.1L262 357ZM271 354.4L271.5 353.7L272 354.2L272.5 354.5L273 354.2L273.5 354.1L274 354.4L274.5 354L275 354.4L275.5 354L276 354.2L276.5 354.4L277 354.2L277.5 354L278 354.4L278.5 354.3L279 354.2L279.5 353.8L279.5 357.6L279 358L278.5 358.3L278 358.1L277.5 357.9L277 358.2L276.5 358L276 357.8L275.5 357.7L275 357.7L274.5 357.4L274 358L273.5 358L273 358.2L272.5 358.2L272 358L271.5 358.1L271 358.1ZM280 354.2L280.5 354.7L281 354.1L281.5 354.3L282 354L282.5 354.2L283 353.9L283.5 354.6L284 354.4L284.5 353.8L285 354.2L285.5 354.4L286 354.7L286.5 354.8L287 354.8L287.5 354.2L288 354.3L288.5 353.9L288.5 358.4L288 358.1L287.5 358.5L287 358.2L286.5 357.7L286 357.7L285.5 358L285 358.3L284.5 358.3L284 358L283.5 358.3L283 358L282.5 358.2L282 358.4L281.5 358.4L281 358.3L280.5 357.6L280 358.1ZM289 355L289.5 354.5L290 355.3L290.5 354.9L291 355.3L291.5 355.2L292 355.4L292.5 355.2L293 354.5L293.5 354.8L294 355.4L294.5 355L295 354.7L295.5 354.6L296 354.6L296.5 354.7L297 354.6L297.5 355.1L298 355.4L298.5 355.5L299 355.2L299.5 354.7L300 354.8L300.5 355.3L301 355.1L301.5 355.3L302 354.7L302.5 354.8L303 355L303.5 354.7L304 354.8L304.5 355.4L305 355.3L305 358.9L304.5 358.7L304 359.1L303.5 358.8L303 359.1L302.5 358.7L302 359L301.5 358.9L301 358.4L300.5 359.1L300 358.9L299.5 358.5L299 359L298.5 358.5L298 359L297.5 359L297 358.3L296.5 358.9L296 358.8L295.5 359L295 358.7L294.5 358.9L294 358.9L293.5 359L293 358.8L292.5 359L292 358.4L291.5 358.7L291 358.4L290.5 358.3L290 359.1L289.5 358.6L289 358.4Z" fill="#2a90f2"/>
<path d="M215.7 323.2L216.2 322.7L216.7 321.9L217.2 321.1L217.7 320.6L218.2 320.8L218.7 321L219.2 321.7L219.7 321.2L220.2 321.1L220.7 321.1L221.2 321L221.7 320.8L222.2 321.2L222.7 322.1L223.2 323.3L223.2 327.1L222.7 326.8L222.2 326.3L221.7 326.1L221.2 325.7L220.7 326L220.2 325.8L219.7 326.1L219.2 325.9L218.7 325.7L218.2 326L217.7 325.7L217.2 326L216.7 326.2L216.2 327.1L215.7 327.3ZM224.9 323.6L225.4 323L225.9 322.1L226.4 321L226.9 320.5L227.4 320.5L227.9 321.3L228.4 321.6L228.9 321.3L229.4 321.4L229.9 320.7L230.4 321.1L230.9 320.8L231.4 321L231.9 322L232.4 323.1L232.4 327.3L231.9 326.4L231.4 326.3L230.9 325.9L230.4 325.9L229.9 325.8L229.4 325.8L228.9 325.7L228.4 325.9L227.9 325.8L227.4 325.9L226.9 325.9L226.4 326.3L225.9 326.7L225.4 327.1L224.9 327.3ZM234.1 323.1L234.6 322.4L235.1 321.7L235.6 321.1L236.1 320.7L236.6 320.6L237.1 320.8L237.6 321.6L238.1 321.6L238.6 321.6L239.1 320.8L239.6 321.1L240.1 320.5L240.6 321.5L241.1 322.4L241.6 322.7L241.6 327.3L241.1 326.7L240.6 326.4L240.1 325.8L239.6 325.6L239.1 325.7L238.6 325.9L238.1 325.7L237.6 326.1L237.1 325.7L236.6 326.2L236.1 326.1L235.6 326.1L235.1 326.7L234.6 326.8L234.1 327.7ZM243.3 323.2L243.8 323L244.3 322L244.8 320.7L245.3 320.7L245.8 320.9L246.3 321.1L246.8 321.7L247.3 321.8L247.8 321.2L248.3 320.8L248.8 320.9L249.3 320.5L249.8 320.8L250.3 322.3L250.8 322.8L250.8 327L250.3 326.6L249.8 326.2L249.3 325.9L248.8 325.8L248.3 325.7L247.8 325.8L247.3 325.7L246.8 325.7L246.3 326L245.8 325.6L245.3 325.8L244.8 326.2L244.3 326.3L243.8 326.7L243.3 327.7ZM252.6 323.3L253.1 322.5L253.6 321.9L254.1 320.6L254.6 320.9L255.1 321.1L255.6 321.2L256.1 321.5L256.6 321.5L257.1 321.1L257.6 321.3L258.1 321L258.6 320.4L259.1 320.8L259.6 321.9L260.1 322.9L260.1 326.9L259.6 326.6L259.1 326.3L258.6 326L258.1 326.1L257.6 326.2L257.1 325.7L256.6 326.2L256.1 325.8L255.6 325.8L255.1 326L254.6 325.8L254.1 325.8L253.6 326.5L253.1 326.8L252.6 327.4Z" fill="#2a90f2"/>
<path d="M215 323.5V356M261.2 323.5V356M224.2 325.5V330M233.4 325.5V330M242.6 325.5V330M251.9 325.5V330" stroke="#7fb8f0" stroke-width="0.9" fill="none"/>
<path d="M224.2 329V338M233.4 329V338M242.6 329V338M251.9 329V338" stroke="#2a90f2" stroke-width="1.5" fill="none" stroke-linecap="round"/>
<path d="M224.2 328.5v2" stroke="#ff0d0d" stroke-width="0.6" stroke-opacity="0.7"/>
<path d="M233.4 328.5v2" stroke="#ff0d0d" stroke-width="0.6" stroke-opacity="0.7"/>
<path d="M242.6 328.5v2" stroke="#ff0d0d" stroke-width="0.6" stroke-opacity="0.7"/>
<path d="M251.9 328.5v2" stroke="#ff0d0d" stroke-width="0.6" stroke-opacity="0.7"/>
<path d="M168.4 316H214.5" stroke="#e0a0d0" stroke-width="0.8"/>
<path d="M260 316H305" stroke="#a0d8d0" stroke-width="0.8"/>
<path d="M216 301.5H228" stroke="#b0e0b0" stroke-width="0.8"/>
<path d="M228 301.5H240" stroke="#c0b0f0" stroke-width="0.8"/>
<path d="M240 301.5H250" stroke="#f0b0e0" stroke-width="0.8"/>
<text x="237.3" y="315.5" font-size="10" text-anchor="middle" font-weight="bold" fill="#000" font-family="Liberation Serif"  stroke="#000" stroke-width="0.3">(I)</text>
<rect x="156.4" y="377.2" width="153.1" height="87.8" fill="#dcdcdc"/>
<path d="M156.4 465V377.2H309.5" stroke="#f0f0f0" stroke-width="0.8" fill="none"/>
<path d="M156.4 465H309.5V377.2" stroke="#bdbdbd" stroke-width="0.8" fill="none"/>
<rect x="159.2" y="378.9" width="25" height="3.6" fill="#fff"/>
<rect x="184.2" y="378.9" width="3" height="3.6" fill="#d0d0d0"/>
<rect x="266.5" y="378.9" width="9" height="3.6" fill="#eee"/>
<rect x="277.5" y="378.9" width="6" height="3.6" fill="#fff"/>
<rect x="284.5" y="378.9" width="13" height="3.6" fill="#eee"/>
<rect x="299.5" y="378.9" width="6" height="3.6" fill="#fff"/>
<text x="271" y="381.7" font-size="2.6" text-anchor="middle" font-weight="normal" fill="#555" font-family="Liberation Sans" >With DPD</text>
<text x="291" y="381.7" font-size="2.6" text-anchor="middle" font-weight="normal" fill="#555" font-family="Liberation Sans" >Without DPD</text>
<rect x="168.7" y="383.4" width="136.8" height="73" fill="#fff"/>
<path d="M182.4 383.4V456.4M196.1 383.4V456.4M209.7 383.4V456.4M223.4 383.4V456.4M237.1 383.4V456.4M250.8 383.4V456.4M264.5 383.4V456.4M278.1 383.4V456.4M291.8 383.4V456.4M168.7 390.7H305.5M168.7 398H305.5M168.7 405.3H305.5M168.7 412.6H305.5M168.7 419.9H305.5M168.7 427.2H305.5M168.7 434.5H305.5M168.7 441.8H305.5M168.7 449.1H305.5" stroke="#efefef" stroke-width="0.5"/>
<text x="166.5" y="384.3" font-size="2.6" text-anchor="end" font-weight="normal" fill="#333" font-family="Liberation Sans" >80</text>
<text x="166.5" y="391.6" font-size="2.6" text-anchor="end" font-weight="normal" fill="#333" font-family="Liberation Sans" >70</text>
<text x="166.5" y="398.9" font-size="2.6" text-anchor="end" font-weight="normal" fill="#333" font-family="Liberation Sans" >60</text>
<text x="166.5" y="406.2" font-size="2.6" text-anchor="end" font-weight="normal" fill="#333" font-family="Liberation Sans" >50</text>
<text x="166.5" y="413.5" font-size="2.6" text-anchor="end" font-weight="normal" fill="#333" font-family="Liberation Sans" >40</text>
<text x="166.5" y="420.8" font-size="2.6" text-anchor="end" font-weight="normal" fill="#333" font-family="Liberation Sans" >30</text>
<text x="166.5" y="428.1" font-size="2.6" text-anchor="end" font-weight="normal" fill="#333" font-family="Liberation Sans" >20</text>
<text x="166.5" y="435.4" font-size="2.6" text-anchor="end" font-weight="normal" fill="#333" font-family="Liberation Sans" >10</text>
<text x="166.5" y="442.7" font-size="2.6" text-anchor="end" font-weight="normal" fill="#333" font-family="Liberation Sans" >0</text>
<text x="166.5" y="450" font-size="2.6" text-anchor="end" font-weight="normal" fill="#333" font-family="Liberation Sans" >-10</text>
<text x="166.5" y="457.3" font-size="2.6" text-anchor="end" font-weight="normal" fill="#333" font-family="Liberation Sans" >-20</text>
<text x="168.7" y="459.8" font-size="2.4" text-anchor="middle" font-weight="normal" fill="#444" font-family="Liberation Sans" >2.495G</text>
<text x="182.4" y="459.8" font-size="2.4" text-anchor="middle" font-weight="normal" fill="#444" font-family="Liberation Sans" >2.495G</text>
<text x="196.1" y="459.8" font-size="2.4" text-anchor="middle" font-weight="normal" fill="#444" font-family="Liberation Sans" >2.495G</text>
<text x="209.7" y="459.8" font-size="2.4" text-anchor="middle" font-weight="normal" fill="#444" font-family="Liberation Sans" >2.495G</text>
<text x="223.4" y="459.8" font-size="2.4" text-anchor="middle" font-weight="normal" fill="#444" font-family="Liberation Sans" >2.495G</text>
<text x="237.1" y="459.8" font-size="2.4" text-anchor="middle" font-weight="normal" fill="#444" font-family="Liberation Sans" >2.495G</text>
<text x="250.8" y="459.8" font-size="2.4" text-anchor="middle" font-weight="normal" fill="#444" font-family="Liberation Sans" >2.495G</text>
<text x="264.5" y="459.8" font-size="2.4" text-anchor="middle" font-weight="normal" fill="#444" font-family="Liberation Sans" >2.495G</text>
<text x="278.1" y="459.8" font-size="2.4" text-anchor="middle" font-weight="normal" fill="#444" font-family="Liberation Sans" >2.495G</text>
<text x="291.8" y="459.8" font-size="2.4" text-anchor="middle" font-weight="normal" fill="#444" font-family="Liberation Sans" >2.495G</text>
<text x="305.5" y="459.8" font-size="2.4" text-anchor="middle" font-weight="normal" fill="#444" font-family="Liberation Sans" >2.495G</text>
<text x="0" y="0" font-size="2.6" text-anchor="middle" font-weight="normal" fill="#333" font-family="Liberation Sans" transform="translate(162.6 415.9) rotate(-90)">Gain (dB)</text>
<text x="164.4" y="463.2" font-size="2.8" text-anchor="middle" font-weight="normal" fill="#333" font-family="Liberation Sans" >Cursor(s)</text>
<text x="243.1" y="463" font-size="2.5" text-anchor="middle" font-weight="normal" fill="#444" font-family="Liberation Sans" >Input Power (dBm)</text>
<defs><filter id="sp5" filterUnits="userSpaceOnUse" x="168.7" y="383.4" width="136.8" height="73" color-interpolation-filters="sRGB"><feGaussianBlur in="SourceAlpha" stdDeviation="3.2" result="b"/><feTurbulence type="fractalNoise" baseFrequency="0.8" numOctaves="1" seed="15" result="n"/><feColorMatrix in="n" type="matrix" values="0 0 0 0 0 0 0 0 0 0 0 0 0 0 0 1 0 0 0 0" result="na"/><feComposite in="b" in2="na" operator="arithmetic" k1="0" k2="1" k3="-1" k4="0.52" result="d"/><feComponentTransfer in="d" result="m"><feFuncA type="discrete" tableValues="0 1"/></feComponentTransfer><feGaussianBlur in="m" stdDeviation="0.3" result="m2"/><feFlood flood-color="#ff0d0d"/><feComposite in2="m2" operator="in"/></filter></defs>
<defs><filter id="sp6" filterUnits="userSpaceOnUse" x="168.7" y="383.4" width="136.8" height="73" color-interpolation-filters="sRGB"><feGaussianBlur in="SourceAlpha" stdDeviation="3.2" result="b"/><feTurbulence type="fractalNoise" baseFrequency="0.8" numOctaves="1" seed="16" result="n"/><feColorMatrix in="n" type="matrix" values="0 0 0 0 0 0 0 0 0 0 0 0 0 0 0 1 0 0 0 0" result="na"/><feComposite in="b" in2="na" operator="arithmetic" k1="0" k2="1.0" k3="-1" k4="0.3" result="d"/><feComponentTransfer in="d" result="m"><feFuncA type="discrete" tableValues="0 1"/></feComponentTransfer><feGaussianBlur in="m" stdDeviation="0.3" result="m2"/><feFlood flood-color="#2a90f2"/><feComposite in2="m2" operator="in"/></filter></defs>
<defs><filter id="sp7" filterUnits="userSpaceOnUse" x="168.7" y="383.4" width="136.8" height="73" color-interpolation-filters="sRGB"><feGaussianBlur in="SourceAlpha" stdDeviation="1.0" result="b"/><feTurbulence type="fractalNoise" baseFrequency="0.8" numOctaves="1" seed="17" result="n"/><feColorMatrix in="n" type="matrix" values="0 0 0 0 0 0 0 0 0 0 0 0 0 0 0 1 0 0 0 0" result="na"/><feComposite in="b" in2="na" operator="arithmetic" k1="0" k2="1" k3="-1" k4="0.62" result="d"/><feComponentTransfer in="d" result="m"><feFuncA type="discrete" tableValues="0 1"/></feComponentTransfer><feGaussianBlur in="m" stdDeviation="0.3" result="m2"/><feFlood flood-color="#ff0d0d"/><feComposite in2="m2" operator="in"/></filter></defs>
<defs><filter id="sp8" filterUnits="userSpaceOnUse" x="168.7" y="383.4" width="136.8" height="73" color-interpolation-filters="sRGB"><feGaussianBlur in="SourceAlpha" stdDeviation="1.0" result="b"/><feTurbulence type="fractalNoise" baseFrequency="0.8" numOctaves="1" seed="18" result="n"/><feColorMatrix in="n" type="matrix" values="0 0 0 0 0 0 0 0 0 0 0 0 0 0 0 1 0 0 0 0" result="na"/><feComposite in="b" in2="na" operator="arithmetic" k1="0" k2="1" k3="-1" k4="0.62" result="d"/><feComponentTransfer in="d" result="m"><feFuncA type="discrete" tableValues="0 1"/></feComponentTransfer><feGaussianBlur in="m" stdDeviation="0.3" result="m2"/><feFlood flood-color="#2a90f2"/><feComposite in2="m2" operator="in"/></filter></defs>
<defs><linearGradient id="g15b" x1="0" y1="0" x2="0" y2="1"><stop offset="0" stop-color="#000" stop-opacity="1"/><stop offset="0.35" stop-color="#000" stop-opacity="1"/><stop offset="1" stop-color="#000" stop-opacity="0.8"/></linearGradient><linearGradient id="g15r" x1="0" y1="0" x2="0" y2="1"><stop offset="0" stop-color="#000" stop-opacity="0.7"/><stop offset="0.4" stop-color="#000" stop-opacity="1"/><stop offset="1" stop-color="#000" stop-opacity="1"/></linearGradient></defs>
<g filter="url(#sp6)"><path d="M169 417.8L190 418.8L213 419.8L245 421.3L266 422.8L283 423.3L297 426.8L297 436.2L283 433.2L266 434.7L245 437.7L213 440.7L190 441.2L175 443.2L169 437.7Z" fill="url(#g15b)"/></g>
<g filter="url(#sp5)"><path d="M169 396.5L190 399.5L213 402.5L245 407L266 413L283 422.5L290 430L295 440.5L295 450L290 441L283 433.5L266 424.5L245 421.5L213 420L190 420L169 420Z" fill="url(#g15r)"/></g>
<g filter="url(#sp7)"><path d="M270 415L283 422.5L290 430L295 440.5L295 450L290 441L283 433.5L270 426Z" fill="#ff0d0d"/></g>
<g filter="url(#sp8)"><path d="M266 425L283 425L297 428.5L297 435L283 432L266 433.5Z" fill="#2a90f2"/></g>
<text x="237" y="399" font-size="10" text-anchor="middle" font-weight="bold" fill="#000" font-family="Liberation Serif"  stroke="#000" stroke-width="0.3">(II)</text>
<text x="213.7" y="454.5" font-size="7.4" font-weight="bold" font-family="Liberation Serif" stroke-width="0.2"><tspan fill="#ff0d0d" stroke="#ff0d0d">No DPD</tspan><tspan fill="#000" stroke="#000">: </tspan><tspan fill="#2a90f2" stroke="#2a90f2" font-weight="normal">with DPD</tspan></text>
<text transform="translate(232.5 475.4) scale(1 1.1)" font-size="6.95" font-weight="bold" text-anchor="middle" font-family="Liberation Serif" stroke="#000" stroke-width="0.22"><tspan font-style="italic">P</tspan><tspan font-style="italic" font-size="4.8" dy="1">out</tspan><tspan dy="-1"> </tspan><tspan>~ </tspan><tspan fill="#ff0d0d" stroke="#ff0d0d">12.6dBm</tspan><tspan> : </tspan><tspan fill="#2a90f2" stroke="#2a90f2" stroke-width="0.12" font-weight="normal">12.7dBm</tspan></text>
<text transform="translate(232.5 483.2) scale(1 1.1)" font-size="6.95" font-weight="bold" text-anchor="middle" font-family="Liberation Serif" stroke="#000" stroke-width="0.22"><tspan>rms EVM ~ </tspan><tspan fill="#ff0d0d" stroke="#ff0d0d">-18.4dB</tspan><tspan> : </tspan><tspan fill="#2a90f2" stroke="#2a90f2" stroke-width="0.12" font-weight="normal">-38.1dB</tspan></text>
<text transform="translate(232.5 491) scale(1 1.1)" font-size="6.95" font-weight="bold" text-anchor="middle" font-family="Liberation Serif" stroke="#000" stroke-width="0.22"><tspan font-style="italic">PAE</tspan><tspan font-style="italic" font-size="4.8" dy="1">avg</tspan><tspan dy="-1"> </tspan><tspan>~ </tspan><tspan fill="#ff0d0d" stroke="#ff0d0d">2.7%</tspan><tspan> : </tspan><tspan fill="#2a90f2" stroke="#2a90f2" stroke-width="0.12" font-weight="normal">2.8%</tspan></text>
<text transform="translate(232.5 499.4) scale(1 1.1)" font-size="6.95" font-weight="bold" text-anchor="middle" font-family="Liberation Serif" stroke="#000" stroke-width="0.22"><tspan>ACLR+/- ~ </tspan><tspan fill="#ff0d0d" stroke="#ff0d0d">-31.6/-31.4dBc</tspan><tspan> : </tspan><tspan fill="#2a90f2" stroke="#2a90f2" stroke-width="0.12" font-weight="normal">-49.5/-52.9dBc</tspan></text>
<text x="224.8" y="513.3" font-size="7.6" text-anchor="middle" font-weight="bold" fill="#000" font-family="Liberation Serif" stroke="#000" stroke-width="0.2">(I) Adjacent Channel Leakage Power Ratio (ACLR)</text>
<text x="224.8" y="522.7" font-size="7.6" text-anchor="middle" font-weight="bold" fill="#000" font-family="Liberation Serif" stroke="#000" stroke-width="0.2">(II) AM/Gain Distortion</text>
<text x="88" y="513.7" font-size="7.55" text-anchor="middle" font-weight="bold" fill="#000" font-family="Liberation Serif" stroke="#000" stroke-width="0.2">Constellation Plots</text>
<text x="268" y="544" font-size="11" text-anchor="middle" font-weight="bold" fill="#000" font-family="Liberation Serif"  stroke="#000" stroke-width="0.3">(iii)</text>
<path d="M382.3 298.4V467.2M421.5 298.4V467.2M460.2 298.4V467.2M343.5 298.4H498.5M343.5 340.2H498.5M343.5 383.2H498.5M343.5 424.8H498.5M498.5 298.4V467.2" stroke="#e3e3e3" stroke-width="0.9" fill="none"/>
<path d="M343.5 298.4V467.2H498.5" stroke="#d9d9d9" stroke-width="0.9" fill="none"/>
<text x="336" y="302" font-size="10.5" text-anchor="end" font-weight="bold" fill="#000" font-family="Liberation Serif"  stroke="#000" stroke-width="0.3">-4</text>
<text x="336" y="343.8" font-size="10.5" text-anchor="end" font-weight="bold" fill="#000" font-family="Liberation Serif"  stroke="#000" stroke-width="0.3">-18</text>
<text x="336" y="386.8" font-size="10.5" text-anchor="end" font-weight="bold" fill="#000" font-family="Liberation Serif"  stroke="#000" stroke-width="0.3">-32</text>
<text x="336" y="428.4" font-size="10.5" text-anchor="end" font-weight="bold" fill="#000" font-family="Liberation Serif"  stroke="#000" stroke-width="0.3">-46</text>
<text x="336" y="470.8" font-size="10.5" text-anchor="end" font-weight="bold" fill="#000" font-family="Liberation Serif"  stroke="#000" stroke-width="0.3">-60</text>
<text x="506.5" y="302" font-size="10.5" text-anchor="start" font-weight="bold" fill="#000" font-family="Liberation Serif"  stroke="#000" stroke-width="0.3">15</text>
<text x="506.5" y="335.8" font-size="10.5" text-anchor="start" font-weight="bold" fill="#000" font-family="Liberation Serif"  stroke="#000" stroke-width="0.3">12</text>
<text x="506.5" y="369.5" font-size="10.5" text-anchor="start" font-weight="bold" fill="#000" font-family="Liberation Serif"  stroke="#000" stroke-width="0.3">9</text>
<text x="506.5" y="403.3" font-size="10.5" text-anchor="start" font-weight="bold" fill="#000" font-family="Liberation Serif"  stroke="#000" stroke-width="0.3">6</text>
<text x="506.5" y="437" font-size="10.5" text-anchor="start" font-weight="bold" fill="#000" font-family="Liberation Serif"  stroke="#000" stroke-width="0.3">3</text>
<text x="506.5" y="470.8" font-size="10.5" text-anchor="start" font-weight="bold" fill="#000" font-family="Liberation Serif"  stroke="#000" stroke-width="0.3">0</text>
<text x="343.5" y="482.2" font-size="10.5" text-anchor="middle" font-weight="bold" fill="#000" font-family="Liberation Serif"  stroke="#000" stroke-width="0.3">5</text>
<text x="382.3" y="482.2" font-size="10.5" text-anchor="middle" font-weight="bold" fill="#000" font-family="Liberation Serif"  stroke="#000" stroke-width="0.3">9</text>
<text x="421.5" y="482.2" font-size="10.5" text-anchor="middle" font-weight="bold" fill="#000" font-family="Liberation Serif"  stroke="#000" stroke-width="0.3">13</text>
<text x="460.2" y="482.2" font-size="10.5" text-anchor="middle" font-weight="bold" fill="#000" font-family="Liberation Serif"  stroke="#000" stroke-width="0.3">17</text>
<text x="498.5" y="482.2" font-size="10.5" text-anchor="middle" font-weight="bold" fill="#000" font-family="Liberation Serif"  stroke="#000" stroke-width="0.3">21</text>
<text x="420.5" y="495.1" font-size="10.5" font-weight="bold" text-anchor="middle" font-family="Liberation Serif"><tspan font-style="italic">P</tspan><tspan font-size="6.3" dy="2" font-style="italic">OUT</tspan><tspan dy="-2"> (dBm)</tspan></text>
<text x="0" y="0" font-size="10.8" text-anchor="middle" font-weight="bold" fill="#000" font-family="Liberation Serif" transform="translate(321 384.8) rotate(-90)" stroke="#000" stroke-width="0.3">ACLR (dBc), rms EVM (dB)</text>
<text transform="translate(527.1 382.6) rotate(-90)" font-size="9.8" font-weight="bold" text-anchor="middle" font-family="Liberation Serif"><tspan font-style="italic">PAE</tspan><tspan font-size="6" dy="2" font-style="italic">AVG</tspan><tspan dy="-2"> (%)</tspan></text>
<text x="415" y="286.2" font-size="8" text-anchor="middle" font-weight="bold" fill="#000" font-family="Liberation Serif"  stroke="#000" stroke-width="0.2">(c)</text>
<path d="M346.7 423.5L358.5 416.8L376.9 405.9L395.3 395L415 383.6L425.9 377.3L437.7 365.2L460.5 359.5L471.8 358.4L487.7 353.9" stroke="#5b9bd5" stroke-width="1.1" fill="none" stroke-dasharray="2.2 1.6" stroke-linejoin="round"/>
<path d="M347.6 368.8L355.9 369.5L364.3 370.5L373.2 373.5L381.6 379.4L388.9 370.2L397 361L404.5 353.4L411.7 346.7L418.8 341.3L425.2 338L429.8 333.9L437.7 329.5L443.4 327.7L457 322.5L467.3 319.8L476.4 317L484.3 314.5L491.1 313" stroke="#e02020" stroke-width="1.1" fill="none" stroke-dasharray="2.5 1.5" stroke-linejoin="round"/>
<circle cx="347.6" cy="368.8" r="1.0" fill="#fff" stroke="#e02020" stroke-width="0.7"/>
<circle cx="355.9" cy="369.5" r="1.0" fill="#fff" stroke="#e02020" stroke-width="0.7"/>
<circle cx="364.3" cy="370.5" r="1.0" fill="#fff" stroke="#e02020" stroke-width="0.7"/>
<circle cx="373.2" cy="373.5" r="1.0" fill="#fff" stroke="#e02020" stroke-width="0.7"/>
<circle cx="381.6" cy="379.4" r="1.0" fill="#fff" stroke="#e02020" stroke-width="0.7"/>
<circle cx="388.9" cy="370.2" r="1.0" fill="#fff" stroke="#e02020" stroke-width="0.7"/>
<circle cx="397" cy="361" r="1.0" fill="#fff" stroke="#e02020" stroke-width="0.7"/>
<circle cx="404.5" cy="353.4" r="1.0" fill="#fff" stroke="#e02020" stroke-width="0.7"/>
<circle cx="411.7" cy="346.7" r="1.0" fill="#fff" stroke="#e02020" stroke-width="0.7"/>
<circle cx="418.8" cy="341.3" r="1.0" fill="#fff" stroke="#e02020" stroke-width="0.7"/>
<circle cx="425.2" cy="338" r="1.0" fill="#fff" stroke="#e02020" stroke-width="0.7"/>
<circle cx="429.8" cy="333.9" r="1.0" fill="#fff" stroke="#e02020" stroke-width="0.7"/>
<circle cx="437.7" cy="329.5" r="1.0" fill="#fff" stroke="#e02020" stroke-width="0.7"/>
<circle cx="443.4" cy="327.7" r="1.0" fill="#fff" stroke="#e02020" stroke-width="0.7"/>
<circle cx="457" cy="322.5" r="1.0" fill="#fff" stroke="#e02020" stroke-width="0.7"/>
<circle cx="467.3" cy="319.8" r="1.0" fill="#fff" stroke="#e02020" stroke-width="0.7"/>
<circle cx="476.4" cy="317" r="1.0" fill="#fff" stroke="#e02020" stroke-width="0.7"/>
<circle cx="484.3" cy="314.5" r="1.0" fill="#fff" stroke="#e02020" stroke-width="0.7"/>
<circle cx="491.1" cy="313" r="1.0" fill="#fff" stroke="#e02020" stroke-width="0.7"/>
<path d="M347.6 461.7L355.9 460.3L364.3 458.7L373.2 456.6L381.1 454.5L388.9 452L397 448.9L404.5 445.3L411.7 441.1L418.6 435.1L425 432.7L431.4 427.8L441 418.7L444.1 414.2L455 398.7L461.9 386L469.5 370L479.8 345.9L484.3 332.3L491.1 313" stroke="#70b040" stroke-width="1.0" fill="none" stroke-linejoin="round"/>
<circle cx="347.6" cy="461.7" r="0.9" fill="#5a9a30"/>
<circle cx="355.9" cy="460.3" r="0.9" fill="#5a9a30"/>
<circle cx="364.3" cy="458.7" r="0.9" fill="#5a9a30"/>
<circle cx="373.2" cy="456.6" r="0.9" fill="#5a9a30"/>
<circle cx="381.1" cy="454.5" r="0.9" fill="#5a9a30"/>
<circle cx="388.9" cy="452" r="0.9" fill="#5a9a30"/>
<circle cx="397" cy="448.9" r="0.9" fill="#5a9a30"/>
<circle cx="404.5" cy="445.3" r="0.9" fill="#5a9a30"/>
<circle cx="411.7" cy="441.1" r="0.9" fill="#5a9a30"/>
<circle cx="418.6" cy="435.1" r="0.9" fill="#5a9a30"/>
<circle cx="425" cy="432.7" r="0.9" fill="#5a9a30"/>
<circle cx="431.4" cy="427.8" r="0.9" fill="#5a9a30"/>
<circle cx="441" cy="418.7" r="0.9" fill="#5a9a30"/>
<circle cx="444.1" cy="414.2" r="0.9" fill="#5a9a30"/>
<circle cx="455" cy="398.7" r="0.9" fill="#5a9a30"/>
<circle cx="461.9" cy="386" r="0.9" fill="#5a9a30"/>
<circle cx="469.5" cy="370" r="0.9" fill="#5a9a30"/>
<circle cx="479.8" cy="345.9" r="0.9" fill="#5a9a30"/>
<circle cx="484.3" cy="332.3" r="0.9" fill="#5a9a30"/>
<circle cx="491.1" cy="313" r="0.9" fill="#5a9a30"/>
<path d="M347.6 452.8L355.9 454.5L364.3 454.8L373.2 452.8L381.1 456.6L388.9 454L397 451.4L404.5 442.7L411.7 441.9L418.6 445.5L425 438.2L431.4 429.1L441 419.1L443.7 400.5L455 395.1L461.9 390.4L470.5 385.1L480.5 387.8L484.6 375.5L491 371.8" stroke="#4a8ad8" stroke-width="1.0" fill="none" stroke-linejoin="round"/>
<circle cx="347.6" cy="452.8" r="1.0" fill="#3f7fcc"/>
<circle cx="355.9" cy="454.5" r="1.0" fill="#3f7fcc"/>
<circle cx="364.3" cy="454.8" r="1.0" fill="#3f7fcc"/>
<circle cx="373.2" cy="452.8" r="1.0" fill="#3f7fcc"/>
<circle cx="381.1" cy="456.6" r="1.0" fill="#3f7fcc"/>
<circle cx="388.9" cy="454" r="1.0" fill="#3f7fcc"/>
<circle cx="397" cy="451.4" r="1.0" fill="#3f7fcc"/>
<circle cx="404.5" cy="442.7" r="1.0" fill="#3f7fcc"/>
<circle cx="411.7" cy="441.9" r="1.0" fill="#3f7fcc"/>
<circle cx="418.6" cy="445.5" r="1.0" fill="#3f7fcc"/>
<circle cx="425" cy="438.2" r="1.0" fill="#3f7fcc"/>
<circle cx="431.4" cy="429.1" r="1.0" fill="#3f7fcc"/>
<circle cx="441" cy="419.1" r="1.0" fill="#3f7fcc"/>
<circle cx="443.7" cy="400.5" r="1.0" fill="#3f7fcc"/>
<circle cx="455" cy="395.1" r="1.0" fill="#3f7fcc"/>
<circle cx="461.9" cy="390.4" r="1.0" fill="#3f7fcc"/>
<circle cx="470.5" cy="385.1" r="1.0" fill="#3f7fcc"/>
<circle cx="480.5" cy="387.8" r="1.0" fill="#3f7fcc"/>
<circle cx="484.6" cy="375.5" r="1.0" fill="#3f7fcc"/>
<circle cx="491" cy="371.8" r="1.0" fill="#3f7fcc"/>
<path d="M347.6 368.8L355.9 370.2L364.3 371L373.2 374.3L381.6 379.4L388.9 374.8L396.6 372.3L404.5 373.8L411.7 375.5L419 401.2L425 386L430.9 364.5L440.5 353.2L444.1 347L454.8 340.2L462.3 335.7L470.7 333.4L480.9 328.9L485 324.3L491.1 322" stroke="#ee6a3a" stroke-width="1.1" fill="none" stroke-linejoin="round"/>
<circle cx="347.6" cy="368.8" r="1.3" fill="#d81e1e"/>
<circle cx="355.9" cy="370.2" r="1.3" fill="#d81e1e"/>
<circle cx="364.3" cy="371" r="1.3" fill="#d81e1e"/>
<circle cx="373.2" cy="374.3" r="1.3" fill="#d81e1e"/>
<circle cx="381.6" cy="379.4" r="1.3" fill="#d81e1e"/>
<circle cx="388.9" cy="374.8" r="1.3" fill="#d81e1e"/>
<circle cx="396.6" cy="372.3" r="1.3" fill="#d81e1e"/>
<circle cx="404.5" cy="373.8" r="1.3" fill="#d81e1e"/>
<circle cx="411.7" cy="375.5" r="1.3" fill="#d81e1e"/>
<circle cx="419" cy="401.2" r="1.3" fill="#d81e1e"/>
<circle cx="425" cy="386" r="1.3" fill="#d81e1e"/>
<circle cx="430.9" cy="364.5" r="1.3" fill="#d81e1e"/>
<circle cx="440.5" cy="353.2" r="1.3" fill="#d81e1e"/>
<circle cx="444.1" cy="347" r="1.3" fill="#d81e1e"/>
<circle cx="454.8" cy="340.2" r="1.3" fill="#d81e1e"/>
<circle cx="462.3" cy="335.7" r="1.3" fill="#d81e1e"/>
<circle cx="470.7" cy="333.4" r="1.3" fill="#d81e1e"/>
<circle cx="480.9" cy="328.9" r="1.3" fill="#d81e1e"/>
<circle cx="485" cy="324.3" r="1.3" fill="#d81e1e"/>
<circle cx="491.1" cy="322" r="1.3" fill="#d81e1e"/>
<ellipse cx="356.4" cy="436" rx="5" ry="20" fill="none" stroke="#111" stroke-width="1.1"/>
<path d="M345 416.3H356.8" stroke="#111" stroke-width="1.1"/>
<path d="M344.5 416.3l2.5 -1.5v3z" fill="#111"/>
<ellipse cx="394.8" cy="375.5" rx="4.2" ry="14.2" fill="none" stroke="#111" stroke-width="1.1"/>
<path d="M382.7 361.3H396.6" stroke="#111" stroke-width="1.1"/>
<path d="M382.2 361.3l2.5 -1.5v3z" fill="#111"/>
<ellipse cx="469.5" cy="370.9" rx="3.4" ry="10" fill="none" stroke="#111" stroke-width="1.1"/>
<path d="M467.3 360.2H478.2" stroke="#111" stroke-width="1.1"/>
<path d="M478.7 360.2l-2.5 -1.5v3z" fill="#111"/>
<rect x="317.7" y="497.5" width="206.4" height="30.8" fill="#fff" stroke="#888" stroke-width="0.9"/>
<path d="M319.5 505.2h9" stroke="#5b9bd5" stroke-width="1" stroke-dasharray="1.5 1"/>
<text x="329.5" y="508.1" font-size="8.2" text-anchor="start" font-weight="bold" fill="#000" font-family="Liberation Serif"  stroke="#000" stroke-width="0.2">ACLR w/oDPD</text>
<path d="M388 505.2h9" stroke="#4a8ad8" stroke-width="1"/>
<circle cx="392.5" cy="505.2" r="0.9" fill="#3f7fcc"/>
<text x="398" y="508.1" font-size="8.2" text-anchor="start" font-weight="bold" fill="#000" font-family="Liberation Serif"  stroke="#000" stroke-width="0.2">ACLR wDPD</text>
<path d="M457.5 505.2h9" stroke="#e02020" stroke-width="1" stroke-dasharray="1.5 1"/>
<circle cx="462" cy="505.2" r="0.9" fill="#e02020"/>
<text x="467.5" y="508.1" font-size="8.2" text-anchor="start" font-weight="bold" fill="#000" font-family="Liberation Serif"  stroke="#000" stroke-width="0.2">EVM w/oDPD</text>
<path d="M319.5 521h9" stroke="#ee6a3a" stroke-width="1"/>
<circle cx="324" cy="521" r="0.9" fill="#d81e1e"/>
<text x="329.5" y="523.9" font-size="8.2" text-anchor="start" font-weight="bold" fill="#000" font-family="Liberation Serif"  stroke="#000" stroke-width="0.2">EVM wDPD</text>
<path d="M388 521h9" stroke="#a0d080" stroke-width="1" stroke-dasharray="1.5 1"/>
<text x="398" y="523.9" font-size="8.2" text-anchor="start" font-weight="bold" fill="#000" font-family="Liberation Serif"  stroke="#000" stroke-width="0.2">PAE w/oDPD</text>
<path d="M457.5 521h9" stroke="#70b040" stroke-width="1"/>
<circle cx="462" cy="521" r="0.9" fill="#5a9a30"/>
<text x="467.5" y="523.9" font-size="8.2" text-anchor="start" font-weight="bold" fill="#000" font-family="Liberation Serif"  stroke="#000" stroke-width="0.2">PAE wDPD</text>
</svg></body></html>
